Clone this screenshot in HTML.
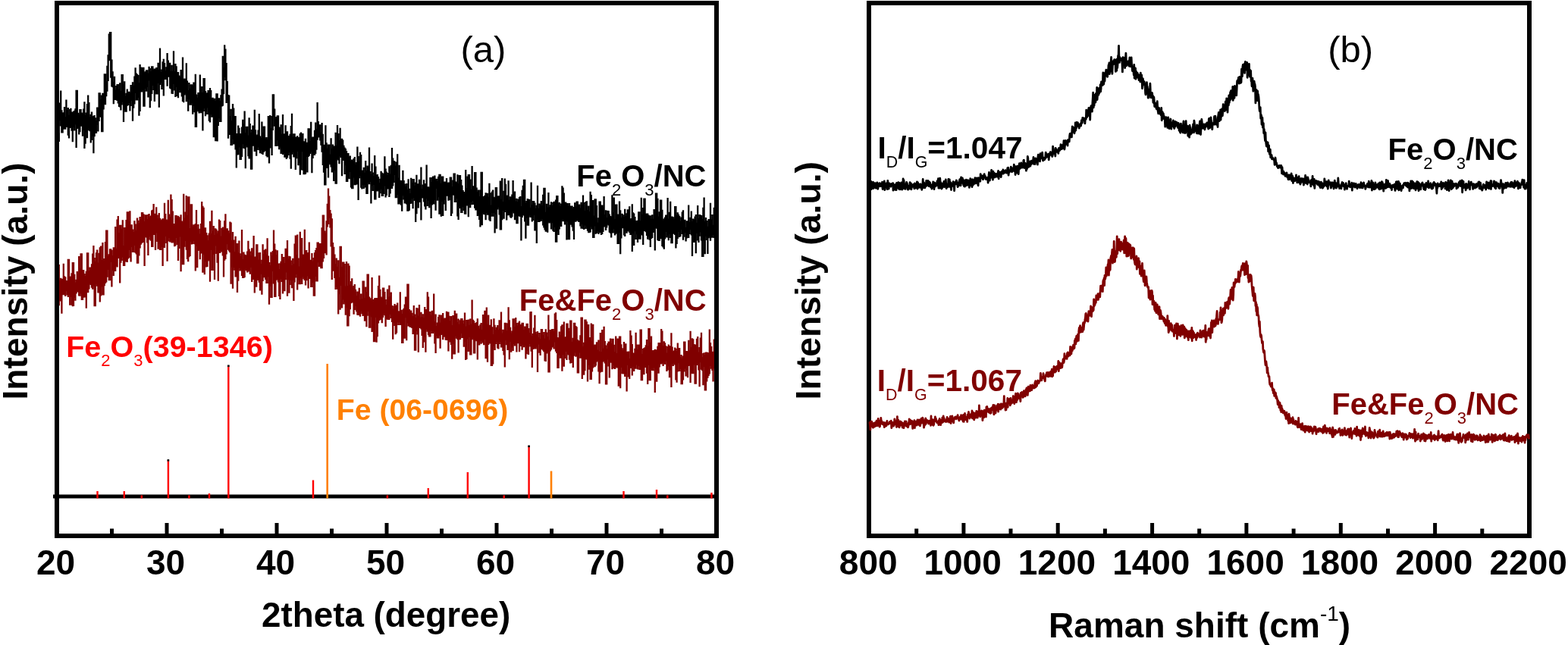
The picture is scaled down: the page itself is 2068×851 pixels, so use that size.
<!DOCTYPE html>
<html><head><meta charset="utf-8"><title>XRD and Raman</title>
<style>html,body{margin:0;padding:0;background:#fff;overflow:hidden;width:2068px;height:851px;}svg{display:block;}</style>
</head><body>
<svg width="2068" height="851" viewBox="0 0 2068 851"><rect width="100%" height="100%" fill="#fff"/><path d="M76.6 145.2V168.1M77.8 141.1V187.1M79.0 135.6V159.2M80.2 119.5V166.6M81.4 145.3V175.6M82.6 148.5V175.6M83.8 148.2V170.8M85.0 141.0V168.5M86.2 154.1V170.7M87.4 131.4V168.1M88.6 144.9V167.6M89.8 142.1V178.8M91.0 151.7V182.5M92.2 144.0V169.1M93.4 142.8V168.1M94.6 147.6V172.8M95.8 148.6V187.3M97.0 146.7V167.4M98.2 145.8V172.4M99.4 143.3V164.5M100.6 118.8V194.9M101.8 118.8V170.1M103.0 148.8V169.0M104.2 150.7V177.5M105.4 144.0V174.2M106.6 144.0V166.7M107.8 148.4V166.7M109.0 150.2V179.8M110.2 143.4V172.0M111.4 134.2V196.1M112.6 151.7V189.7M113.8 148.6V174.4M115.0 137.1V182.3M116.2 125.5V171.9M117.4 134.9V172.2M118.6 154.2V173.3M119.8 150.7V188.6M121.0 147.6V185.0M122.2 154.1V179.9M123.4 152.7V202.2M124.6 152.1V180.2M125.8 155.2V176.0M127.0 159.2V176.0M128.2 141.4V164.7M129.4 141.4V173.4M130.6 122.2V160.1M131.8 122.2V154.0M133.0 131.1V154.7M134.2 125.6V174.2M135.4 122.8V174.2M136.6 122.8V144.6M137.8 97.3V137.5M139.0 97.3V138.3M140.2 107.5V127.2M141.4 86.7V120.7M142.6 72.2V107.1M143.8 44.5V80.2M145.0 41.9V79.2M146.2 41.9V102.7M147.4 78.4V114.6M148.6 94.2V115.3M149.8 107.7V137.3M151.0 100.7V132.0M152.2 118.5V131.7M153.4 113.1V132.2M154.6 111.0V133.1M155.8 111.0V136.5M157.0 117.7V140.9M158.2 109.3V141.5M159.4 119.7V145.4M160.6 98.0V138.6M161.8 98.0V135.0M163.0 111.1V161.1M164.2 107.2V145.3M165.4 126.5V147.8M166.6 122.8V147.8M167.8 117.4V139.7M169.0 121.6V139.0M170.2 120.7V135.9M171.4 122.6V146.6M172.6 112.0V140.0M173.8 114.9V133.0M175.0 108.3V159.7M176.2 112.8V142.7M177.4 100.6V137.5M178.6 89.2V123.1M179.8 96.5V132.5M181.0 97.8V132.5M182.2 99.1V128.7M183.4 109.0V152.7M184.6 84.9V147.0M185.8 88.5V121.6M187.0 91.0V121.6M188.2 88.8V118.8M189.4 88.8V140.7M190.6 95.8V140.7M191.8 94.3V117.1M193.0 92.3V120.7M194.2 92.3V115.0M195.4 96.4V128.4M196.6 87.7V106.5M197.8 89.9V142.2M199.0 93.9V133.3M200.2 87.3V124.0M201.4 87.3V112.9M202.6 92.1V119.0M203.8 90.4V133.9M205.0 90.8V119.5M206.2 88.9V124.6M207.4 88.9V124.6M208.6 82.8V110.0M209.8 91.9V141.7M211.0 63.6V111.9M212.2 94.8V108.8M213.4 91.5V118.0M214.6 81.3V113.9M215.8 77.7V126.6M217.0 82.9V104.8M218.2 93.0V104.9M219.4 88.3V104.7M220.6 70.0V113.7M221.8 79.5V101.7M223.0 82.8V101.7M224.2 82.8V116.7M225.4 93.8V117.4M226.6 85.8V123.7M227.8 93.8V123.9M229.0 67.3V111.0M230.2 94.1V119.6M231.4 84.0V128.0M232.6 87.2V114.9M233.8 95.1V127.0M235.0 95.1V129.3M236.2 99.4V118.9M237.4 101.5V122.2M238.6 92.1V122.2M239.8 92.1V127.5M241.0 75.4V133.9M242.2 105.2V135.2M243.4 103.5V125.5M244.6 104.5V123.5M245.8 83.3V134.2M247.0 106.4V130.8M248.2 119.1V146.8M249.4 109.1V131.4M250.6 116.8V138.8M251.8 111.2V138.8M253.0 111.3V135.7M254.2 113.2V150.7M255.4 108.4V140.0M256.6 108.4V148.3M257.8 97.7V167.9M259.0 124.6V167.9M260.2 128.7V145.1M261.4 121.9V147.2M262.6 121.9V149.6M263.8 98.5V149.2M265.0 122.4V145.4M266.2 114.0V149.2M267.4 122.1V172.6M268.6 103.1V147.0M269.8 103.1V143.1M271.0 120.1V153.2M272.2 123.5V151.1M273.4 122.3V142.6M274.6 119.0V151.0M275.8 119.0V159.8M277.0 116.1V161.6M278.2 119.1V151.2M279.4 129.7V154.8M280.6 128.7V154.2M281.8 130.9V181.2M283.0 129.8V181.2M284.2 132.8V186.3M285.4 123.3V186.3M286.6 123.3V186.5M287.8 129.2V166.1M289.0 129.2V156.3M290.2 133.0V160.9M291.4 125.3V160.9M292.6 117.4V140.6M293.8 73.8V139.8M295.0 89.4V124.3M296.2 59.2V101.8M297.4 64.6V106.2M298.6 82.9V136.0M299.8 107.1V132.5M301.0 124.9V182.8M302.2 125.4V177.9M303.4 153.2V177.9M304.6 143.7V192.1M305.8 159.0V192.1M307.0 137.0V183.9M308.2 142.6V190.4M309.4 153.0V189.6M310.6 153.0V197.5M311.8 176.1V221.5M313.0 176.6V204.4M314.2 165.6V204.2M315.4 168.8V194.6M316.6 176.1V211.1M317.8 177.4V211.1M319.0 167.4V207.0M320.2 157.7V190.2M321.4 163.3V195.7M322.6 146.5V196.2M323.8 175.1V222.2M325.0 166.7V192.2M326.2 166.7V194.4M327.4 178.5V206.2M328.6 155.3V209.5M329.8 163.0V209.5M331.0 175.2V223.7M332.2 171.0V223.7M333.4 165.4V192.7M334.6 165.4V192.5M335.8 144.7V200.0M337.0 171.2V200.0M338.2 179.2V205.7M339.4 177.4V198.1M340.6 171.6V194.4M341.8 150.1V198.2M343.0 179.5V202.2M344.2 182.3V198.1M345.4 160.5V203.1M346.6 174.8V203.9M347.8 166.4V200.9M349.0 166.4V199.4M350.2 183.0V199.3M351.4 181.1V205.9M352.6 183.7V207.4M353.8 153.1V206.0M355.0 153.1V215.6M356.2 152.0V195.4M357.4 168.9V184.3M358.6 153.0V205.1M359.8 124.2V171.9M361.0 124.2V153.8M362.2 143.4V166.7M363.4 155.7V192.9M364.6 154.0V192.9M365.8 152.3V185.3M367.0 152.3V192.8M368.2 167.4V197.3M369.4 170.6V195.0M370.6 164.3V202.9M371.8 176.8V200.8M373.0 150.9V204.0M374.2 177.2V201.9M375.4 176.2V207.7M376.6 165.2V207.7M377.8 173.3V210.0M379.0 173.3V208.2M380.2 179.1V205.1M381.4 179.1V201.3M382.6 176.8V209.7M383.8 166.1V222.8M385.0 149.7V203.8M386.2 180.4V201.0M387.4 176.2V207.5M388.6 176.2V207.5M389.8 180.5V224.0M391.0 181.4V209.3M392.2 179.2V199.7M393.4 181.0V218.2M394.6 181.0V214.7M395.8 176.0V230.7M397.0 174.5V224.4M398.2 175.9V200.3M399.4 175.9V224.8M400.6 186.2V230.2M401.8 186.4V230.2M403.0 182.7V229.7M404.2 187.7V206.8M405.4 187.9V227.6M406.6 169.3V206.9M407.8 169.3V205.7M409.0 186.2V203.1M410.2 160.7V200.6M411.4 181.8V228.3M412.6 180.6V209.1M413.8 180.6V205.0M415.0 171.7V205.0M416.2 161.6V203.1M417.4 170.1V197.8M418.6 134.9V184.7M419.8 160.0V181.6M421.0 164.2V180.7M422.2 164.2V185.4M423.4 174.6V191.8M424.6 162.1V200.8M425.8 176.8V217.9M427.0 190.7V227.7M428.2 190.7V244.6M429.4 165.2V244.6M430.6 188.3V221.9M431.8 195.7V221.9M433.0 190.5V234.5M434.2 190.5V214.9M435.4 203.5V217.2M436.6 182.2V220.6M437.8 196.3V227.5M439.0 190.6V226.0M440.2 193.0V239.1M441.4 192.4V224.7M442.6 174.8V242.7M443.8 192.1V242.7M445.0 164.9V209.7M446.2 175.9V211.5M447.4 185.0V216.3M448.6 168.8V206.0M449.8 182.9V208.0M451.0 182.7V232.3M452.2 184.4V211.9M453.4 191.7V211.9M454.6 194.5V230.0M455.8 195.9V218.3M457.0 199.0V240.1M458.2 201.9V240.1M459.4 201.9V235.1M460.6 207.3V236.3M461.8 205.4V226.8M463.0 212.5V247.4M464.2 210.6V249.3M465.4 211.7V249.3M466.6 209.0V234.4M467.8 206.9V244.3M469.0 216.7V244.3M470.2 214.0V243.2M471.4 193.4V243.5M472.6 206.0V264.0M473.8 212.5V235.3M475.0 200.7V232.3M476.2 204.0V247.8M477.4 225.3V249.5M478.6 224.5V244.1M479.8 220.8V249.1M481.0 227.8V244.0M482.2 212.1V247.6M483.4 225.3V255.9M484.6 218.5V255.9M485.8 220.5V241.2M487.0 194.6V243.3M488.2 226.1V240.1M489.4 229.4V268.5M490.6 215.4V245.2M491.8 227.5V252.0M493.0 232.6V244.0M494.2 205.1V263.5M495.4 219.5V263.5M496.6 231.3V252.6M497.8 229.9V252.6M499.0 233.1V251.3M500.2 241.1V260.9M501.4 235.7V255.2M502.6 225.8V249.8M503.8 227.7V258.9M505.0 230.0V258.9M506.2 228.5V256.1M507.4 206.2V245.5M508.6 222.6V260.6M509.8 226.5V257.9M511.0 231.6V249.6M512.2 227.9V249.3M513.4 219.2V260.0M514.6 229.6V255.4M515.8 217.7V249.1M517.0 195.0V249.1M518.2 208.4V245.6M519.4 211.9V241.0M520.6 212.7V231.1M521.8 218.5V261.3M523.0 213.5V261.3M524.2 203.3V256.9M525.4 234.5V269.6M526.6 217.7V269.6M527.8 237.7V266.8M529.0 240.1V270.7M530.2 238.0V278.7M531.4 224.8V258.3M532.6 237.9V263.5M533.8 242.5V268.4M535.0 246.4V268.4M536.2 242.1V269.4M537.4 250.3V278.7M538.6 236.2V278.7M539.8 248.7V277.7M541.0 255.3V268.9M542.2 234.8V268.8M543.4 240.9V262.3M544.6 235.9V275.3M545.8 235.9V261.4M547.0 244.7V264.9M548.2 240.5V292.9M549.4 230.7V282.3M550.6 242.2V267.3M551.8 242.2V274.5M553.0 236.8V266.4M554.2 244.3V266.9M555.4 220.5V290.6M556.6 249.1V261.6M557.8 243.4V261.3M559.0 237.3V266.6M560.2 243.0V272.6M561.4 242.1V276.5M562.6 217.6V262.2M563.8 246.4V272.0M565.0 246.2V264.9M566.2 247.5V274.3M567.4 234.1V269.4M568.6 240.0V288.0M569.8 233.9V270.6M571.0 232.6V269.5M572.2 232.6V269.5M573.4 231.5V263.7M574.6 235.8V277.7M575.8 235.8V248.8M577.0 238.9V264.8M578.2 232.7V260.2M579.4 229.8V282.7M580.6 229.7V282.6M581.8 241.7V285.8M583.0 232.5V265.6M584.2 232.5V285.1M585.4 239.8V269.4M586.6 239.4V263.7M587.8 239.4V277.9M589.0 234.9V258.4M590.2 241.7V258.7M591.4 240.4V264.7M592.6 240.4V264.3M593.8 233.5V260.0M595.0 233.5V285.0M596.2 245.9V281.7M597.4 237.4V256.8M598.6 228.6V257.7M599.8 228.6V267.1M601.0 239.6V267.1M602.2 240.9V262.3M603.4 230.2V285.6M604.6 242.1V290.1M605.8 231.1V272.8M607.0 231.1V275.1M608.2 237.1V281.1M609.4 244.5V281.1M610.6 251.0V272.8M611.8 253.0V277.9M613.0 255.3V282.8M614.2 224.1V282.8M615.4 248.3V271.6M616.6 232.4V271.6M617.8 229.9V286.2M619.0 229.9V269.6M620.2 236.6V274.3M621.4 249.4V266.8M622.6 219.1V270.3M623.8 245.3V265.0M625.0 245.3V270.1M626.2 227.1V274.8M627.4 227.1V277.5M628.6 247.5V277.5M629.8 253.3V285.1M631.0 250.5V282.8M632.2 258.9V290.1M633.4 250.6V299.4M634.6 226.7V297.2M635.8 226.7V297.2M637.0 259.0V281.2M638.2 259.0V282.9M639.4 257.8V283.2M640.6 254.2V290.3M641.8 254.7V280.7M643.0 254.7V283.8M644.2 259.8V283.8M645.4 241.7V290.6M646.6 254.3V292.0M647.8 270.5V285.7M649.0 252.4V280.6M650.2 250.4V285.8M651.4 259.8V280.9M652.6 260.7V307.5M653.8 247.1V282.9M655.0 247.1V301.8M656.2 259.3V276.5M657.4 258.3V273.9M658.6 258.3V283.4M659.8 238.4V303.6M661.0 262.7V303.6M662.2 235.1V290.3M663.4 265.9V278.1M664.6 251.8V288.7M665.8 235.5V279.9M667.0 242.8V277.2M668.2 258.4V290.5M669.4 257.5V284.2M670.6 238.2V284.2M671.8 263.8V283.9M673.0 259.3V286.8M674.2 259.6V287.7M675.4 256.5V286.3M676.6 237.9V279.2M677.8 254.3V281.4M679.0 252.4V290.3M680.2 265.6V285.0M681.4 261.8V295.2M682.6 266.1V295.2M683.8 262.4V285.4M685.0 260.0V285.4M686.2 259.0V286.1M687.4 272.2V317.4M688.6 250.8V286.9M689.8 244.8V284.5M691.0 236.8V284.6M692.2 236.8V292.4M693.4 267.6V314.8M694.6 265.0V287.7M695.8 261.9V297.8M697.0 262.8V297.8M698.2 262.8V284.4M699.4 273.8V286.8M700.6 240.5V287.0M701.8 270.0V292.5M703.0 264.9V290.9M704.2 264.9V283.9M705.4 267.5V304.4M706.6 274.8V304.4M707.8 270.7V320.9M709.0 244.8V289.4M710.2 274.8V293.0M711.4 268.6V293.0M712.6 270.6V292.0M713.8 264.9V291.7M715.0 271.4V288.6M716.2 256.8V297.6M717.4 247.7V300.6M718.6 247.7V303.5M719.8 279.8V305.8M721.0 268.8V305.8M722.2 273.6V306.8M723.4 254.1V292.8M724.6 273.2V294.6M725.8 270.3V293.3M727.0 266.2V302.6M728.2 271.3V294.2M729.4 267.1V304.7M730.6 265.7V306.0M731.8 265.7V299.9M733.0 263.4V319.7M734.2 258.0V319.7M735.4 258.0V305.2M736.6 268.8V310.1M737.8 266.9V302.5M739.0 272.1V297.5M740.2 268.5V299.0M741.4 245.3V290.0M742.6 247.4V292.3M743.8 254.4V292.3M745.0 266.4V296.6M746.2 266.4V291.8M747.4 267.9V316.6M748.6 268.1V292.5M749.8 271.6V316.2M751.0 268.0V316.2M752.2 271.5V295.9M753.4 271.5V296.7M754.6 271.6V299.6M755.8 275.3V304.8M757.0 273.1V316.0M758.2 267.2V292.8M759.4 272.4V292.8M760.6 265.6V291.4M761.8 265.6V291.4M763.0 271.5V292.8M764.2 269.4V293.0M765.4 274.5V298.5M766.6 266.7V301.8M767.8 269.7V295.7M769.0 257.6V301.9M770.2 267.1V303.0M771.4 277.7V297.5M772.6 266.0V302.1M773.8 265.3V299.4M775.0 277.1V304.8M776.2 271.6V307.3M777.4 278.9V307.3M778.6 252.8V306.6M779.8 256.9V299.5M781.0 264.0V302.4M782.2 264.0V313.9M783.4 284.4V313.9M784.6 262.2V298.4M785.8 262.2V308.7M787.0 271.0V307.8M788.2 293.6V304.8M789.4 287.3V309.1M790.6 265.6V307.2M791.8 265.6V306.6M793.0 270.5V310.0M794.2 270.5V309.0M795.4 273.4V305.9M796.6 259.1V299.6M797.8 282.9V298.7M799.0 277.3V303.9M800.2 286.9V300.5M801.4 277.7V295.8M802.6 278.1V297.6M803.8 282.6V306.8M805.0 285.0V307.7M806.2 286.3V313.5M807.4 257.2V307.5M808.6 280.0V307.5M809.8 260.5V302.2M811.0 289.2V310.6M812.2 269.4V308.7M813.4 269.4V307.1M814.6 282.6V322.0M815.8 282.8V322.0M817.0 265.5V307.3M818.2 277.2V335.3M819.4 287.0V314.5M820.6 281.8V301.2M821.8 283.3V301.0M823.0 286.3V310.4M824.2 275.7V311.9M825.4 284.8V305.3M826.6 281.2V307.7M827.8 276.2V305.5M829.0 276.2V303.8M830.2 272.3V307.1M831.4 288.9V309.9M832.6 288.0V310.0M833.8 269.3V331.9M835.0 280.2V307.7M836.2 281.5V324.0M837.4 286.1V305.2M838.6 290.9V315.9M839.8 290.9V309.3M841.0 290.7V320.0M842.2 279.3V315.0M843.4 279.3V315.8M844.6 290.9V315.8M845.8 260.8V309.4M847.0 282.8V310.4M848.2 274.1V322.9M849.4 261.4V305.1M850.6 261.4V305.1M851.8 281.9V306.2M853.0 281.6V310.9M854.2 281.6V315.7M855.4 283.6V312.4M856.6 285.3V316.8M857.8 284.3V326.0M859.0 288.7V315.1M860.2 283.2V314.1M861.4 288.7V307.0M862.6 276.0V303.8M863.8 278.5V330.4M865.0 254.4V301.1M866.2 254.4V301.8M867.4 261.8V316.9M868.6 285.6V318.1M869.8 279.3V318.1M871.0 263.4V315.1M872.2 263.4V315.2M873.4 276.7V324.9M874.6 290.4V326.4M875.8 288.4V328.7M877.0 286.5V315.6M878.2 283.6V305.8M879.4 283.6V313.5M880.6 260.9V310.9M881.8 288.5V317.3M883.0 279.7V308.9M884.2 265.8V314.0M885.4 285.4V321.2M886.6 285.4V321.2M887.8 286.2V308.7M889.0 289.0V308.6M890.2 272.1V309.9M891.4 272.1V327.6M892.6 284.3V322.1M893.8 280.2V314.9M895.0 282.8V305.7M896.2 284.9V313.1M897.4 291.4V311.9M898.6 286.4V303.2M899.8 279.5V309.0M901.0 277.3V316.8M902.2 289.7V312.8M903.4 289.7V306.7M904.6 299.7V318.5M905.8 291.2V314.4M907.0 291.2V310.1M908.2 270.6V314.0M909.4 293.0V309.0M910.6 286.7V303.3M911.8 278.5V310.5M913.0 292.6V338.1M914.2 288.4V319.5M915.4 289.7V320.1M916.6 285.4V318.3M917.8 283.0V334.3M919.0 293.7V307.4M920.2 271.0V317.5M921.4 287.9V320.1M922.6 283.1V311.8M923.8 283.5V306.4M925.0 284.0V317.6M926.2 289.0V339.0M927.4 273.7V339.0M928.6 260.5V317.4M929.8 292.2V335.3M931.0 287.1V311.7M932.2 291.0V316.9M933.4 298.7V334.9M934.6 288.9V314.2M935.8 289.5V312.3M937.0 267.7V317.8M938.2 289.4V313.8M939.4 282.9V313.8M940.6 296.7V309.9M941.8 273.8V314.0M943.0 290.2V330.0" fill="none" stroke="#000" stroke-width="2.3"/><path d="M76.6 369.1V403.3M77.8 348.9V403.3M79.0 369.7V395.8M80.2 366.8V397.6M81.4 367.8V413.7M82.6 367.8V389.3M83.8 347.7V389.3M85.0 364.3V388.9M86.2 365.2V391.1M87.4 370.0V384.3M88.6 370.8V389.6M89.8 341.8V392.1M91.0 341.8V389.1M92.2 364.7V402.8M93.4 364.6V392.0M94.6 360.3V402.8M95.8 345.9V404.3M97.0 345.9V404.1M98.2 361.7V392.7M99.4 372.6V396.7M100.6 368.7V387.4M101.8 358.0V384.7M103.0 360.3V385.5M104.2 338.1V390.5M105.4 353.7V390.7M106.6 334.2V387.5M107.8 334.2V396.1M109.0 356.1V396.1M110.2 356.1V392.8M111.4 361.1V392.5M112.6 363.9V392.6M113.8 357.7V406.8M115.0 333.3V386.3M116.2 333.3V386.3M117.4 357.0V381.6M118.6 352.5V374.5M119.8 352.5V375.9M121.0 348.3V379.7M122.2 334.5V381.8M123.4 324.0V377.4M124.6 340.0V404.2M125.8 344.7V404.2M127.0 333.2V375.3M128.2 329.6V377.8M129.4 346.5V386.4M130.6 333.8V386.4M131.8 326.3V398.6M133.0 324.6V390.4M134.2 343.1V378.6M135.4 320.0V389.5M136.6 341.1V389.5M137.8 341.1V377.2M139.0 319.0V374.0M140.2 303.5V372.5M141.4 303.5V365.8M142.6 337.8V355.9M143.8 335.2V370.2M145.0 328.3V370.2M146.2 328.3V346.0M147.4 329.8V378.6M148.6 336.9V357.1M149.8 326.2V364.1M151.0 326.2V358.1M152.2 299.1V358.1M153.4 327.8V350.9M154.6 289.4V352.6M155.8 285.1V340.9M157.0 307.6V340.7M158.2 296.7V373.4M159.4 296.7V346.8M160.6 301.7V344.1M161.8 290.2V339.5M163.0 324.5V351.0M164.2 300.1V351.0M165.4 300.1V345.5M166.6 290.1V345.5M167.8 279.2V346.1M169.0 279.2V341.6M170.2 292.2V329.7M171.4 278.2V340.3M172.6 296.3V345.4M173.8 296.3V325.7M175.0 302.6V333.1M176.2 305.7V333.1M177.4 291.3V324.1M178.6 295.4V333.8M179.8 303.8V335.4M181.0 287.6V347.7M182.2 290.7V347.7M183.4 294.1V337.6M184.6 285.9V327.4M185.8 289.0V322.8M187.0 280.0V321.0M188.2 280.0V319.2M189.4 282.3V320.0M190.6 292.1V351.1M191.8 283.3V312.4M193.0 283.3V313.5M194.2 289.0V320.5M195.4 283.1V337.1M196.6 282.1V316.6M197.8 286.4V312.4M199.0 284.5V317.8M200.2 277.5V326.0M201.4 276.8V326.0M202.6 269.1V309.7M203.8 281.7V310.0M205.0 281.7V329.9M206.2 273.3V307.5M207.4 283.6V318.9M208.6 288.1V328.7M209.8 280.9V322.0M211.0 287.8V329.9M212.2 291.3V329.9M213.4 289.4V325.8M214.6 288.2V351.1M215.8 288.2V327.0M217.0 267.8V327.0M218.2 281.9V311.7M219.4 289.4V321.1M220.6 290.7V344.7M221.8 263.7V318.4M223.0 282.6V314.0M224.2 286.1V319.5M225.4 256.6V317.4M226.6 263.1V320.4M227.8 278.6V320.4M229.0 295.0V318.9M230.2 295.0V325.3M231.4 284.1V324.4M232.6 284.1V313.7M233.8 287.3V322.9M235.0 284.7V343.9M236.2 286.3V327.9M237.4 289.4V312.4M238.6 283.3V358.3M239.8 291.6V340.9M241.0 293.2V349.3M242.2 255.8V349.3M243.4 287.4V325.7M244.6 279.6V318.0M245.8 257.9V329.8M247.0 284.0V341.9M248.2 259.3V345.3M249.4 259.3V339.3M250.6 300.9V338.0M251.8 269.3V318.9M253.0 269.3V322.4M254.2 298.6V322.1M255.4 296.2V317.8M256.6 296.2V322.3M257.8 295.0V357.5M259.0 277.1V325.0M260.2 301.7V353.2M261.4 296.1V331.1M262.6 301.7V329.4M263.8 308.6V342.3M265.0 295.0V334.6M266.2 266.1V334.6M267.4 271.8V359.7M268.6 273.7V336.0M269.8 300.2V362.2M271.0 300.2V345.2M272.2 307.1V352.5M273.4 310.2V352.0M274.6 317.2V344.4M275.8 307.4V342.8M277.0 291.8V371.8M278.2 308.2V329.7M279.4 277.8V357.0M280.6 304.5V357.0M281.8 297.9V335.8M283.0 310.3V369.1M284.2 301.3V324.4M285.4 302.4V334.9M286.6 307.8V346.7M287.8 304.6V370.8M289.0 289.4V333.4M290.2 290.9V333.9M291.4 311.5V332.4M292.6 301.1V332.2M293.8 299.6V337.6M295.0 302.8V365.4M296.2 291.3V343.8M297.4 282.3V341.9M298.6 301.3V335.5M299.8 301.3V322.3M301.0 304.3V329.7M302.2 307.5V331.4M303.4 292.5V333.3M304.6 293.6V374.7M305.8 317.0V352.4M307.0 306.0V380.8M308.2 316.6V353.3M309.4 332.1V356.8M310.6 311.8V365.4M311.8 320.9V365.4M313.0 320.9V385.9M314.2 333.3V370.7M315.4 317.6V354.0M316.6 334.3V357.5M317.8 337.7V355.4M319.0 303.0V364.1M320.2 342.1V366.9M321.4 332.5V366.9M322.6 335.4V366.1M323.8 336.2V355.5M325.0 337.2V357.2M326.2 331.6V359.6M327.4 317.7V358.6M328.6 328.6V357.7M329.8 331.6V361.8M331.0 337.0V352.5M332.2 327.3V372.1M333.4 333.5V368.9M334.6 311.1V368.9M335.8 338.7V386.5M337.0 338.6V370.7M338.2 322.3V378.7M339.4 322.3V368.2M340.6 333.3V369.9M341.8 342.5V372.8M343.0 332.9V383.6M344.2 348.3V361.9M345.4 342.8V388.7M346.6 322.2V371.0M347.8 335.1V366.3M349.0 329.7V366.3M350.2 328.5V368.9M351.4 335.6V374.0M352.6 314.3V374.0M353.8 337.4V365.4M355.0 346.0V401.7M356.2 349.9V377.9M357.4 332.4V392.9M358.6 337.1V392.9M359.8 331.0V357.9M361.0 303.6V374.6M362.2 321.6V391.9M363.4 329.3V391.9M364.6 336.0V369.7M365.8 330.2V368.1M367.0 347.4V372.4M368.2 355.3V390.9M369.4 347.2V395.0M370.6 344.7V368.2M371.8 335.1V372.1M373.0 342.7V387.5M374.2 339.1V372.3M375.4 346.9V384.2M376.6 327.8V369.3M377.8 327.8V359.4M379.0 317.0V390.8M380.2 341.1V369.5M381.4 337.7V386.7M382.6 338.2V375.9M383.8 343.6V370.0M385.0 350.5V380.3M386.2 340.8V369.8M387.4 347.9V397.0M388.6 321.5V372.6M389.8 310.4V366.5M391.0 335.9V362.0M392.2 309.4V382.6M393.4 340.6V369.9M394.6 351.4V375.3M395.8 305.8V375.3M397.0 320.9V367.2M398.2 314.1V374.9M399.4 335.6V365.4M400.6 336.0V368.3M401.8 302.8V370.0M403.0 331.0V376.6M404.2 329.9V370.2M405.4 334.5V364.5M406.6 332.9V380.6M407.8 319.4V367.9M409.0 342.7V367.9M410.2 343.1V379.1M411.4 333.9V379.1M412.6 344.6V373.2M413.8 340.0V390.8M415.0 333.2V390.8M416.2 330.1V365.0M417.4 326.9V371.4M418.6 319.6V371.4M419.8 319.6V346.3M421.0 321.9V351.9M422.2 321.0V351.9M423.4 321.0V354.2M424.6 300.2V354.2M425.8 283.5V345.4M427.0 283.5V341.1M428.2 304.4V334.3M429.4 307.5V334.3M430.6 291.3V336.4M431.8 268.8V299.5M433.0 248.4V296.1M434.2 258.5V288.1M435.4 277.0V300.5M436.6 281.4V325.5M437.8 288.3V368.9M439.0 319.9V357.7M440.2 325.8V357.8M441.4 335.4V366.9M442.6 348.0V382.0M443.8 340.6V379.1M445.0 351.8V381.8M446.2 343.2V414.6M447.4 365.8V388.3M448.6 324.7V408.8M449.8 324.7V377.0M451.0 352.0V406.6M452.2 345.6V395.6M453.4 345.6V401.4M454.6 347.9V398.7M455.8 377.6V415.7M457.0 345.0V405.5M458.2 376.9V430.4M459.4 347.5V430.4M460.6 350.6V417.3M461.8 375.4V408.2M463.0 371.0V400.3M464.2 367.2V399.1M465.4 379.2V399.5M466.6 376.9V414.7M467.8 375.1V409.1M469.0 381.7V403.5M470.2 390.0V411.2M471.4 384.5V415.7M472.6 384.5V416.0M473.8 379.7V416.0M475.0 395.3V417.7M476.2 387.6V411.1M477.4 394.1V414.2M478.6 370.6V417.0M479.8 370.6V415.7M481.0 392.9V423.8M482.2 378.5V423.8M483.4 385.0V431.3M484.6 361.5V416.7M485.8 361.5V411.1M487.0 391.6V432.8M488.2 393.2V432.8M489.4 395.7V418.5M490.6 366.1V438.0M491.8 395.1V436.8M493.0 395.1V451.3M494.2 393.3V451.3M495.4 392.9V418.8M496.6 392.9V451.7M497.8 393.4V444.3M499.0 377.1V426.4M500.2 363.6V423.0M501.4 381.8V421.9M502.6 391.6V419.9M503.8 393.0V426.2M505.0 379.4V419.0M506.2 379.4V413.7M507.4 385.1V416.2M508.6 394.9V430.9M509.8 402.3V421.2M511.0 381.5V421.7M512.2 391.6V422.1M513.4 376.6V422.1M514.6 391.0V415.0M515.8 385.5V420.1M517.0 403.1V425.0M518.2 407.6V447.7M519.4 403.6V426.3M520.6 401.0V429.9M521.8 404.2V441.3M523.0 402.5V439.4M524.2 399.4V425.2M525.4 410.3V429.0M526.6 410.7V425.3M527.8 385.3V429.0M529.0 408.7V429.0M530.2 414.2V452.9M531.4 408.6V452.9M532.6 406.8V446.8M533.8 401.6V446.8M535.0 391.6V419.2M536.2 391.6V449.2M537.4 374.6V426.5M538.6 374.6V430.5M539.8 407.9V430.7M541.0 409.5V432.1M542.2 409.5V432.1M543.4 412.8V432.9M544.6 417.2V441.0M545.8 403.0V441.0M547.0 414.5V462.7M548.2 419.2V462.7M549.4 406.1V436.7M550.6 406.6V441.5M551.8 416.5V464.7M553.0 402.1V432.0M554.2 418.4V433.1M555.4 411.7V434.4M556.6 418.1V443.1M557.8 414.2V458.9M559.0 419.1V451.6M560.2 404.9V444.9M561.4 408.0V464.7M562.6 408.0V434.7M563.8 385.3V437.7M565.0 391.5V442.2M566.2 411.1V444.5M567.4 411.1V444.5M568.6 415.8V436.5M569.8 409.8V440.0M571.0 409.8V440.0M572.2 387.6V437.8M573.4 423.8V453.6M574.6 414.6V465.9M575.8 429.9V443.2M577.0 425.4V446.6M578.2 418.1V446.6M579.4 415.3V442.8M580.6 425.6V459.7M581.8 415.6V442.0M583.0 419.0V440.4M584.2 413.0V448.3M585.4 420.7V444.8M586.6 419.4V443.9M587.8 419.4V448.8M589.0 410.7V449.0M590.2 411.4V449.0M591.4 411.4V463.4M592.6 416.8V449.0M593.8 423.3V451.6M595.0 417.0V454.9M596.2 429.3V473.7M597.4 415.9V453.8M598.6 415.9V467.5M599.8 409.8V467.5M601.0 413.6V443.9M602.2 413.6V446.8M603.4 425.3V448.2M604.6 420.5V465.4M605.8 427.8V448.2M607.0 422.3V448.0M608.2 420.1V440.1M609.4 420.1V445.9M610.6 422.5V445.9M611.8 427.1V457.7M613.0 412.4V451.0M614.2 430.5V475.1M615.4 422.1V474.1M616.6 422.1V447.5M617.8 421.5V464.0M619.0 428.7V444.7M620.2 420.5V468.4M621.4 427.5V468.4M622.6 395.4V448.3M623.8 421.7V446.3M625.0 423.3V466.6M626.2 427.5V466.6M627.4 426.1V449.1M628.6 425.1V450.3M629.8 420.2V474.6M631.0 429.8V452.1M632.2 433.4V455.6M633.4 428.1V450.2M634.6 426.1V453.7M635.8 434.7V449.9M637.0 415.0V452.5M638.2 415.0V455.2M639.4 409.7V447.9M640.6 409.7V473.3M641.8 405.4V473.3M643.0 427.8V477.7M644.2 415.5V455.1M645.4 429.3V453.3M646.6 428.8V453.6M647.8 421.2V483.1M649.0 431.3V483.1M650.2 441.0V480.6M651.4 420.2V456.7M652.6 428.8V462.0M653.8 435.0V454.0M655.0 431.8V450.5M656.2 428.9V459.5M657.4 435.3V460.6M658.6 422.3V454.0M659.8 433.4V450.7M661.0 411.4V458.4M662.2 439.4V458.4M663.4 434.8V462.9M664.6 435.4V468.5M665.8 425.8V484.5M667.0 425.8V449.2M668.2 436.3V455.3M669.4 426.3V462.0M670.6 405.2V462.0M671.8 422.3V474.3M673.0 431.7V450.6M674.2 439.5V464.7M675.4 436.4V458.6M676.6 420.3V463.0M677.8 420.3V453.8M679.0 431.3V456.5M680.2 419.1V453.3M681.4 426.1V464.6M682.6 429.4V453.3M683.8 425.5V453.3M685.0 423.6V464.3M686.2 429.2V456.6M687.4 427.7V457.0M688.6 425.8V461.7M689.8 425.8V455.2M691.0 434.9V458.3M692.2 430.6V456.2M693.4 430.9V473.6M694.6 426.7V467.2M695.8 426.7V462.7M697.0 433.0V468.0M698.2 439.1V454.0M699.4 411.3V457.5M700.6 411.1V463.8M701.8 442.8V484.9M703.0 439.9V460.9M704.2 432.5V460.6M705.4 415.7V460.6M706.6 437.7V460.4M707.8 441.1V457.8M709.0 437.0V491.0M710.2 445.0V454.6M711.4 439.0V465.7M712.6 447.0V468.9M713.8 434.0V461.3M715.0 434.0V460.1M716.2 442.3V462.4M717.4 437.9V464.3M718.6 446.5V476.6M719.8 434.2V476.9M721.0 438.6V466.5M722.2 444.2V464.6M723.4 415.5V491.5M724.6 448.5V491.5M725.8 435.1V463.5M727.0 435.1V461.5M728.2 433.9V458.5M729.4 433.9V457.1M730.6 437.2V460.5M731.8 413.5V451.4M733.0 412.2V463.8M734.2 422.0V466.0M735.4 445.0V486.1M736.6 446.2V486.1M737.8 437.5V468.6M739.0 442.6V472.7M740.2 430.3V472.7M741.4 428.2V489.7M742.6 435.2V468.2M743.8 424.5V483.8M745.0 445.4V473.0M746.2 444.3V464.1M747.4 426.4V474.9M748.6 426.4V467.3M749.8 432.8V468.4M751.0 436.8V474.7M752.2 422.5V479.5M753.4 422.5V479.0M754.6 450.7V474.4M755.8 445.8V485.0M757.0 425.7V469.8M758.2 425.7V465.4M759.4 430.0V470.8M760.6 431.3V469.4M761.8 448.0V492.6M763.0 449.2V492.6M764.2 449.3V465.4M765.4 442.3V472.7M766.6 418.6V472.7M767.8 418.6V499.9M769.0 457.1V494.8M770.2 451.7V494.8M771.4 421.5V489.3M772.6 421.5V473.7M773.8 424.3V474.5M775.0 428.1V503.4M776.2 428.1V481.7M777.4 444.9V487.7M778.6 444.9V501.1M779.8 426.6V501.1M781.0 450.6V490.5M782.2 427.8V485.6M783.4 455.6V479.8M784.6 454.6V484.2M785.8 454.6V482.4M787.0 451.3V477.5M788.2 461.6V475.7M789.4 448.5V490.6M790.6 463.4V506.2M791.8 438.9V491.4M793.0 464.0V490.7M794.2 435.0V490.7M795.4 459.6V477.6M796.6 430.8V476.2M797.8 450.1V479.5M799.0 455.5V507.4M800.2 460.0V507.4M801.4 453.0V474.5M802.6 450.6V483.5M803.8 450.6V498.6M805.0 446.6V478.0M806.2 453.1V478.8M807.4 446.7V487.3M808.6 446.7V482.0M809.8 454.8V486.3M811.0 464.2V486.9M812.2 443.4V484.2M813.4 466.1V485.6M814.6 446.4V485.6M815.8 446.4V509.7M817.0 443.6V487.7M818.2 443.6V512.2M819.4 454.3V484.7M820.6 459.3V493.2M821.8 462.3V493.6M823.0 450.9V493.6M824.2 453.2V496.9M825.4 453.2V494.1M826.6 463.7V516.6M827.8 463.7V481.7M829.0 463.6V497.6M830.2 473.1V500.0M831.4 435.9V485.9M832.6 442.4V485.8M833.8 454.0V495.4M835.0 465.5V483.7M836.2 465.8V489.9M837.4 459.7V486.6M838.6 438.7V486.7M839.8 454.5V481.4M841.0 461.3V487.6M842.2 454.4V482.8M843.4 454.4V488.1M844.6 434.4V488.1M845.8 434.4V502.3M847.0 467.1V502.3M848.2 460.1V494.2M849.4 459.0V494.2M850.6 458.3V484.9M851.8 455.3V484.8M853.0 448.0V492.7M854.2 456.4V507.0M855.4 433.0V481.7M856.6 433.0V502.3M857.8 451.7V502.3M859.0 443.4V487.0M860.2 462.4V489.1M861.4 462.0V489.3M862.6 462.0V485.4M863.8 460.7V518.0M865.0 461.2V487.6M866.2 461.2V503.8M867.4 456.7V488.7M868.6 452.0V492.7M869.8 452.0V484.4M871.0 452.5V480.1M872.2 433.9V480.5M873.4 436.5V479.0M874.6 456.3V483.1M875.8 450.2V478.4M877.0 452.2V480.7M878.2 456.2V476.4M879.4 465.6V489.9M880.6 457.1V488.4M881.8 454.6V483.6M883.0 456.2V498.3M884.2 456.2V488.5M885.4 439.3V511.0M886.6 457.5V480.6M887.8 463.6V483.0M889.0 462.4V478.4M890.2 458.5V481.4M891.4 459.7V501.4M892.6 463.3V504.7M893.8 452.5V490.6M895.0 459.0V479.2M896.2 459.0V490.0M897.4 471.1V487.0M898.6 468.0V507.3M899.8 472.8V507.3M901.0 469.5V501.4M902.2 450.6V490.6M903.4 450.6V486.5M904.6 463.1V496.6M905.8 463.1V488.7M907.0 464.3V498.2M908.2 448.8V482.9M909.4 461.8V482.0M910.6 436.7V504.9M911.8 458.0V492.3M913.0 446.2V493.3M914.2 447.3V493.3M915.4 454.1V481.4M916.6 454.5V506.7M917.8 454.5V506.7M919.0 446.7V482.0M920.2 443.9V480.5M921.4 464.4V488.6M922.6 458.1V510.2M923.8 445.4V478.2M925.0 438.7V487.8M926.2 471.1V489.3M927.4 466.1V508.2M928.6 465.2V484.2M929.8 468.2V515.5M931.0 464.5V515.5M932.2 464.5V503.4M933.4 464.9V498.7M934.6 465.9V495.9M935.8 434.6V493.4M937.0 452.1V482.9M938.2 456.9V486.8M939.4 463.9V489.0M940.6 463.7V503.6M941.8 447.6V486.3M943.0 463.6V488.4" fill="none" stroke="#800000" stroke-width="2.3"/><rect x="70" y="652.5" width="873" height="5" fill="#000"/><rect x="127.3" y="648.0" width="2.4" height="9.5" fill="#ff0000"/><rect x="162.6" y="648.0" width="2.4" height="9.5" fill="#ff0000"/><rect x="185.6" y="653.5" width="2.4" height="4.0" fill="#ff0000"/><rect x="220.7" y="607.0" width="2.4" height="50.5" fill="#ff0000"/><rect x="248.2" y="653.5" width="2.4" height="4.0" fill="#ff0000"/><rect x="274.8" y="651.0" width="2.4" height="6.5" fill="#ff0000"/><rect x="300.1" y="482.0" width="2.4" height="175.5" fill="#ff0000"/><rect x="411.8" y="633.5" width="2.4" height="24.0" fill="#ff0000"/><rect x="509.7" y="653.5" width="2.4" height="4.0" fill="#ff0000"/><rect x="563.6" y="644.0" width="2.4" height="13.5" fill="#ff0000"/><rect x="615.6" y="623.0" width="2.4" height="34.5" fill="#ff0000"/><rect x="663.5" y="653.5" width="2.4" height="4.0" fill="#ff0000"/><rect x="696.4" y="588.5" width="2.4" height="69.0" fill="#ff0000"/><rect x="821.3" y="648.0" width="2.4" height="9.5" fill="#ff0000"/><rect x="864.8" y="646.0" width="2.4" height="11.5" fill="#ff0000"/><rect x="879.1" y="653.5" width="2.4" height="4.0" fill="#ff0000"/><rect x="937.2" y="650.0" width="2.4" height="7.5" fill="#ff0000"/><rect x="220.6" y="606.0" width="2.6" height="2.6" fill="#000"/><rect x="696.3" y="587.5" width="2.6" height="2.6" fill="#000"/><rect x="300.0" y="481.5" width="2.6" height="2.6" fill="#000"/><rect x="430.4" y="480.0" width="2.6" height="177.5" fill="#ff8000"/><rect x="725.7" y="621.5" width="2.6" height="36.0" fill="#ff8000"/><rect x="75" y="4" width="870" height="703" fill="none" stroke="#000" stroke-width="6"/><rect x="1146" y="4" width="871" height="703" fill="none" stroke="#000" stroke-width="6"/><rect x="145.0" y="697.5" width="5" height="7.5" fill="#000"/><rect x="217.5" y="690" width="5" height="15" fill="#000"/><rect x="290.0" y="697.5" width="5" height="7.5" fill="#000"/><rect x="362.5" y="690" width="5" height="15" fill="#000"/><rect x="435.0" y="697.5" width="5" height="7.5" fill="#000"/><rect x="507.5" y="690" width="5" height="15" fill="#000"/><rect x="580.0" y="697.5" width="5" height="7.5" fill="#000"/><rect x="652.5" y="690" width="5" height="15" fill="#000"/><rect x="725.0" y="697.5" width="5" height="7.5" fill="#000"/><rect x="797.5" y="690" width="5" height="15" fill="#000"/><rect x="870.0" y="697.5" width="5" height="7.5" fill="#000"/><rect x="1206.2" y="697.5" width="5" height="7.5" fill="#000"/><rect x="1268.4" y="690" width="5" height="15" fill="#000"/><rect x="1330.5" y="697.5" width="5" height="7.5" fill="#000"/><rect x="1392.7" y="690" width="5" height="15" fill="#000"/><rect x="1454.9" y="697.5" width="5" height="7.5" fill="#000"/><rect x="1517.1" y="690" width="5" height="15" fill="#000"/><rect x="1579.2" y="697.5" width="5" height="7.5" fill="#000"/><rect x="1641.4" y="690" width="5" height="15" fill="#000"/><rect x="1703.6" y="697.5" width="5" height="7.5" fill="#000"/><rect x="1765.8" y="690" width="5" height="15" fill="#000"/><rect x="1828.0" y="697.5" width="5" height="7.5" fill="#000"/><rect x="1890.1" y="690" width="5" height="15" fill="#000"/><rect x="1952.3" y="697.5" width="5" height="7.5" fill="#000"/><path d="M1146.5 244.6l0.5-2.1 0.4 3.5 0.5 4.3 0.4-8.5 0.5-2.4 0.4 10.3 0.5-4.7 0.4 3.4 0.5-1 0.4-6.3 0.5-0.9 0.4 8.4 0.5-5.5 0.4 2.9 0.5-4.4 0.4 5.7 0.5-4.8 0.4-0.7 0.5 6.4 0.4-1.2 0.5-2.5 0.4 3.7 0.5-7.2 0.4 7 0.5 1.3 0.4-2.4 0.5-2.8 0.4-1.9 0.5 3.1 0.4-3.7 0.5 3.9 0.4-1.5 0.5 0.4 0.4 1.3 0.5-3.7 0.4 2.9 0.5 0.3 0.4-5 0.5 9.3 0.4-5.3 0.5 0.2 0.4 3.4 0.5-0.6 0.4-8.2 0.5 11.6 0.4-0.8 0.5-6.3 0.4 3.1 0.5-0.1 0.4-4.5 0.5 3.5 0.4 0.4 0.5 3.7 0.4-11.3 0.5 5.6 0.4-2.1 0.5 7.2 0.4-7.1 0.5-0.1 0.4 0.5 0.5 3 0.4 0.4 0.5 0.4 0.4-2.3 0.5 0.8 0.4-2.2 0.5 0.3 0.4 0.2 0.5-1.3 0.4 9.5 0.5-6.2 0.4 0 0.5-1.1 0.4 0.3 0.5 5.7 0.4 0.5 0.5-6.8 0.4 1.1 0.5 6 0.4-9.1 0.5 3.6 0.4 2 0.5-4.1 0.4 4.8 0.5-7.2 0.4 6.5 0.5 2.4 0.4-8 0.5 5 0.4 3.3 0.5-6.2 0.4 1.5 0.5-0.4 0.4-3.9 0.5 4 0.4 5.3 0.5-5.5 0.4 4.4 0.5-13.1 0.4 8.5 0.5-6.7 0.4 3.7 0.5 4.3 0.4 3.5 0.5-5.6 0.4 5.8 0.5-4.7 0.4-0.5 0.5-3.8 0.4 0.8 0.5 1.5 0.4 1.8 0.5 5.7 0.4 0 0.5-2 0.4-3 0.5 1.2 0.4 2.4 0.5-8.1 0.4 3.8 0.5 2.9 0.4-5.6 0.5 8 0.4-3.4 0.5-0.4 0.4-0.3 0.5-2.1 0.4 2.7 0.5-2.6 0.4-0.4 0.5 1.3 0.4 4.3 0.5-7.1 0.4 5.4 0.5 0.8 0.4-3.6 0.5-0.8 0.4 2.9 0.5-3.6 0.4-3.1 0.5 9.4 0.4-8.6 0.5 2.3 0.4-0.4 0.5 1.7 0.4 3.2 0.5-4.1 0.4 0.4 0.5 1.9 0.4-2.8 0.5 3.4 0.4 2.2 0.5-2.3 0.4 4.2 0.5-3.7 0.4-0.1 0.5-10 0.4 6.4 0.5 4.6 0.4-6.7 0.5 3.1 0.4 3.1 0.5 0.9 0.4-2.9 0.5-0.6 0.4 1.2 0.5-7.3 0.4 6.7 0.5-3.2 0.4 1.6 0.5-3.4 0.4-1.6 0.5 5.1 0.4 2.1 0.5-0.2 0.4-5.5 0.5 1.8 0.4-0.7 0.5 4.2 0.4 1.7 0.5-1.3 0.4 0 0.5 3.4 0.4-5.3 0.5-0.1 0.4 3.3 0.5-7.1 0.4 0.5 0.5 3.8 0.4 5.5 0.5-8.5 0.4 3 0.5-2.5 0.4 4.3 0.5-0.8 0.4-1.1 0.5-2.1 0.4 0.7 0.5-4 0.4 1.8 0.5 4.8 0.4-9.5 0.5 12.4 0.4-7.5 0.5 4.3 0.4 3.3 0.5-13.1 0.4 3.9 0.5 1.8 0.4 2.6 0.5 3.3 0.4 2.4 0.5-7 0.4 5.4 0.5-4.8 0.4-0.5 0.5 4 0.4-5.6 0.5-1.4 0.4 7.5 0.5-2.7 0.4-0.8 0.5 0.7 0.4-7 0.5 7.9 0.4 3.9 0.5-5.7 0.4 1.8 0.5-1.1 0.4 3 0.5-1.8 0.4-8.6 0.5 9.1 0.4 0.5 0.5-9 0.4 5.2 0.5 3.4 0.4 1.6 0.5-6.2 0.4 9.6 0.5-6.3 0.4-1.2 0.5 1.1 0.4 0.3 0.5 0.8 0.4-5.6 0.5 4.9 0.4-0.5 0.5 7.6 0.4-7.8 0.5-1.9 0.4-1.4 0.5 2.5 0.4-1.4 0.5-3.6 0.4 0.4 0.5 3 0.4-0.4 0.5 5.7 0.4-1.8 0.5-2.7 0.4 2.8 0.5-3.9 0.4-2.5 0.5-2 0.4 5.4 0.5 1.3 0.4 1.5 0.5-11 0.4 5.1 0.5 2.6 0.4-0.7 0.5-5.8 0.4 6.1 0.5-1 0.4 4 0.5-6.3 0.4 8.1 0.5-8.1 0.4 8.4 0.5-5.3 0.4 2.8 0.5-3.7 0.4-2.8 0.5 7.5 0.4-5.2 0.5 4.4 0.4-6 0.5-0.2 0.4 2.4 0.5 4.3 0.4-5.6 0.5 8.5 0.4-6.9 0.5 4.6 0.4-9.3 0.5 3.4 0.4 3.7 0.5 0.9 0.4-4.9 0.5 7.9 0.4-10 0.5 3.8 0.4 3.6 0.5-1.7 0.4-2 0.5 2.2 0.4-5.6 0.5 4.7 0.4-7.1 0.5 1.1 0.4 6.1 0.5-0.6 0.4-3.6 0.5-2.7 0.4 2.4 0.5-1.5 0.4 6.6 0.5 2.4 0.4-10.1 0.5 3.7 0.4-0.1 0.5 0.3 0.4-0.7 0.5 1.4 0.4-9.7 0.5 5.1 0.4-0.6 0.5 0.6 0.4-2.9 0.5 2.1 0.4 0.2 0.5 2.7 0.4-0.7 0.5-4.5 0.4-0.5 0.5-1.5 0.4 3.1 0.5-0.2 0.4 0 0.5 3.9 0.4-1.9 0.5 2 0.4-1.9 0.5 0.3 0.4 1.6 0.5 0 0.4 4.6 0.5-8 0.4-1.6 0.5-4 0.4 8.5 0.5 2.1 0.4-5.3 0.5-1.3 0.4-2 0.5 2.7 0.4-7.8 0.5 10 0.4-5 0.5 3.9 0.4 3.8 0.5-10.9 0.4 4.1 0.5-2 0.4-0.2 0.5 5.9 0.4-0.2 0.5-1.1 0.4-0.4 0.5-2.9 0.4 1.9 0.5 1.7 0.4 0 0.5-3.9 0.4 2.5 0.5-3.6 0.4-2.6 0.5 10.4 0.4-6 0.5-0.3 0.4-2.3 0.5 2.5 0.4-2.1 0.5 3.8 0.4 2.2 0.5-6.4 0.4-1 0.5 2.3 0.4 0.5 0.5-1.9 0.4-3.3 0.5 5.4 0.4-0.8 0.5-0.7 0.4-1.8 0.5 1.8 0.4-0.8 0.5-2.2 0.4 2.9 0.5-1.1 0.4 1.6 0.5-2 0.4 2 0.5-6.4 0.4 4.6 0.5-5.1 0.4 10 0.5-5.4 0.4 1.6 0.5-2.6 0.4 1.5 0.5-0.2 0.4-1.8 0.5-4.1 0.4 2.1 0.5 3.4 0.4 1 0.5-3.5 0.4-1.2 0.5 1.9 0.4-1.9 0.5 3.3 0.4-8.1 0.5 2.4 0.4 6.6 0.5-2.5 0.4 6.8 0.5-10.9 0.4 7.2 0.5-3.4 0.4 4.6 0.5-0.7 0.4-8.2 0.5 0.6 0.4 0.5 0.5 9.4 0.4-6 0.5-6 0.4-2 0.5 7 0.4-0.8 0.5-2.5 0.4 2.1 0.5-6.5 0.4 5.8 0.5 0.5 0.4 0 0.5-3.7 0.4 2.6 0.5-2.1 0.4-6.4 0.5-0.4 0.4 10.3 0.5-6.4 0.4 5.6 0.5-5.3 0.4 4.3 0.5 2.7 0.4 2.8 0.5-8.5 0.4 6.2 0.5-4.4 0.4-12.2 0.5 2.2 0.4 9.9 0.5 2 0.4-5.2 0.5 0.4 0.4-2.4 0.5-0.3 0.4 6.2 0.5-4.8 0.4-1.6 0.5 3.8 0.4-4.3 0.5 3 0.4-2.7 0.5 2.4 0.4-2.2 0.5-5.2 0.4 8.9 0.5-0.8 0.4-2.7 0.5-2.1 0.4 5.7 0.5-7.6 0.4 4.1 0.5 0.4 0.4 0.1 0.5-3 0.4-0.9 0.5 7.6 0.4-9.5 0.5-3.6 0.4 0.8 0.5 5 0.4-3.1 0.5 5.2 0.4 0.9 0.5-10.2 0.4-0.1 0.5 4.9 0.4 1.4 0.5-5.2 0.4 2.4 0.5-4.9 0.4 8.4 0.5 2.4 0.4-4.2 0.5 0.4 0.4 0.6 0.5 2 0.4-0.8 0.5-1.4 0.4 0.5 0.5-7.9 0.4 6.3 0.5-4.6 0.4 4.1 0.5-1.7 0.4-0.1 0.5 1.6 0.4-1.5 0.5-2 0.4 7.5 0.5-6.4 0.4 1.1 0.5-2.9 0.4-1.3 0.5-0.9 0.4 2.8 0.5-0.5 0.4 2 0.5-3.9 0.4 5.7 0.5-1.3 0.4-12 0.5 3 0.4 3.3 0.5 1.8 0.4 1.2 0.5-0.6 0.4-2.7 0.5 6.8 0.4-10.7 0.5 2.7 0.4-1.1 0.5 2.7 0.4 0.6 0.5-1.5 0.4 1.3 0.5-1.9 0.4 4.3 0.5-6.9 0.4-0.1 0.5 3.5 0.4-1 0.5-0.1 0.4-1.9 0.5-5.3 0.4 5.5 0.5-4.2 0.4 4.8 0.5-1.8 0.4-1.5 0.5-2.4 0.4 4.6 0.5-4.2 0.4-5.7 0.5 8.4 0.4 2.9 0.5-4.1 0.4-2.8 0.5-4.8 0.4 1.2 0.5 3.5 0.4-0.1 0.5-3.4 0.4 2.9 0.5 2.7 0.4-7.5 0.5 1.8 0.4-1.1 0.5-0.2 0.4 1.9 0.5-8.1 0.4-2.5 0.5 1.8 0.4-1.2 0.5-1.1 0.4 5 0.5 0 0.4-7.9 0.5-6.1 0.4 0.4 0.5 6.9 0.4-0.8 0.5-4.8 0.4 4.3 0.5 3 0.4-4.4 0.5 1.7 0.4-11.3 0.5 9.9 0.4-5.1 0.5 2.3 0.4-7.6 0.5 2.8 0.4-1.1 0.5-1.2 0.4 4.4 0.5-2.1 0.4 0 0.5 4.9 0.4-3.4 0.5-1 0.4 0.6 0.5-2.5 0.4 3.4 0.5-3 0.4-4.5 0.5 0 0.4 3.4 0.5-6.8 0.4 2.8 0.5-0.7 0.4-1.5 0.5-0.1 0.4 2 0.5 2.1 0.4 2.9 0.5-6.7 0.4 0.6 0.5 0.5 0.4-12.1 0.5 0.9 0.4 8.7 0.5-2.3 0.4-4.8 0.5 5.1 0.4-7.3 0.5-2.9 0.4 6.4 0.5-0.6 0.4 0.7 0.5 9.2 0.4-16.3 0.5 5.5 0.4-7.8 0.5 1.3 0.4-0.5 0.5 6.8 0.4-9.8 0.5-8.4 0.4-6.9 0.5 19.8 0.4-7 0.5 4.2 0.4-8.5 0.5-5.5 0.4 0.7 0.5 9.2 0.4-11.5 0.5 6.3 0.4 2.1 0.5-16.4 0.4 16 0.5-7 0.4-1.2 0.5-2.2 0.4 4.1 0.5-8.8 0.4 6.4 0.5-5 0.4 0.7 0.5-6.8 0.4 9.2 0.5-4.4 0.4-8.7 0.5 3.1 0.4-3 0.5 3.1 0.4 1.4 0.5-16.4 0.4 12.6 0.5 2.6 0.4-4.3 0.5-4.2 0.4 4.3 0.5-11.2 0.4 1.5 0.5-1.6 0.4-3.5 0.5 8 0.4-1.1 0.5 0 0.4 2.2 0.5-8.8 0.4 2 0.5-8.5 0.4 0.5 0.5-3.5 0.4 14.7 0.5-4.7 0.4-9.5 0.5 3.3 0.4-5 0.5-6.5 0.4 19.1 0.5-4.5 0.4 7.4 0.5-11.4 0.4-0.5 0.5-3.9 0.4-1.3 0.5 1 0.4-2.5 0.5 2.5 0.4 3.6 0.5-5.8 0.4 15.4 0.5-14.7 0.4 9.6 0.5 3.9 0.4-15.3 0.5 11.6 0.4-5.2 0.5-11 0.4 4.4 0.5-17.4 0.4 14.9 0.5 7.1 0.4-6.9 0.5 4.2 0.4-1.8 0.5-0.6 0.4 1.9 0.5-1.9 0.4 0.5 0.5 6.6 0.4 10.6 0.5-19.2 0.4 4.4 0.5-2.4 0.4-1.5 0.5 6.4 0.4-1.6 0.5 8.6 0.4-1.8 0.5-11.4 0.4-6.3 0.5 12.4 0.4 4.1 0.5-1.3 0.4-3.2 0.5-0.8 0.4 0.5 0.5-0.9 0.4 3.3 0.5 2.8 0.4-5.2 0.5-5.9 0.4 11.6 0.5-6.4 0.4 6.5 0.5-3.7 0.4-8 0.5 10.3 0.4 1.6 0.5 5.9 0.4-0.7 0.5-1 0.4 0.5 0.5 6.4 0.4-13.4 0.5 17.6 0.4 0.2 0.5-8 0.4-5.5 0.5 14.5 0.4-10.2 0.5 3.8 0.4-0.7 0.5 2.4 0.4-3.5 0.5 6.2 0.4-1 0.5-2.6 0.4 7 0.5-0.8 0.4-4.8 0.5 1.3 0.4 6.5 0.5-11.8 0.4 10.8 0.5 0.1 0.4-8.1 0.5 5.8 0.4 12 0.5-3.8 0.4-8.9 0.5 4.6 0.4 0 0.5-1 0.4 0.2 0.5 4.2 0.4-1 0.5 11.9 0.4 2 0.5-8.4 0.4-1.7 0.5-6.1 0.4 4.9 0.5 0.7 0.4 5.4 0.5 9.4 0.4-11.3 0.5 11 0.4-6.1 0.5 1.4 0.4-1.3 0.5-12.6 0.4 10.2 0.5 3.6 0.4 4.9 0.5-6.7 0.4 3.6 0.5-3.1 0.4 5.4 0.5-1.7 0.4 8.9 0.5-7.6 0.4 0.3 0.5 5.3 0.4 7.2 0.5-4.8 0.4 0.4 0.5 4.4 0.4-2 0.5 4.5 0.4 0.8 0.5-2.7 0.4-7.4 0.5 10.5 0.4 2.5 0.5 3.2 0.4-7.8 0.5 0.3 0.4 6.3 0.5-0.3 0.4 1.7 0.5-2.2 0.4 3.2 0.5 0.9 0.4-9.5 0.5 16.3 0.4-6.1 0.5-5.1 0.4 1.3 0.5 7.6 0.4-6.5 0.5 6.1 0.4-2.8 0.5 3.5 0.4-0.1 0.5 10.5 0.4-5.9 0.5 4.6 0.4-11.2 0.5 4.9 0.4-3.2 0.5 7.4 0.4 4.5 0.5-5.8 0.4-7.5 0.5 6.9 0.4 5.5 0.5 2.3 0.4-7.8 0.5 1.6 0.4-4.1 0.5-2.4 0.4 5.6 0.5 7.5 0.4-8.4 0.5 5.5 0.4-0.8 0.5-2.8 0.4-0.8 0.5-3.8 0.4 5.8 0.5 3.6 0.4 1.1 0.5-2.2 0.4-0.1 0.5-6.8 0.4 1.3 0.5 2.7 0.4 1.1 0.5-4 0.4 3.4 0.5 1.6 0.4 1.9 0.5-0.4 0.4-5.5 0.5 2 0.4 7.8 0.5-7.9 0.4 5.2 0.5 5.1 0.4 0.5 0.5-12.1 0.4 5.7 0.5-1.6 0.4-1.2 0.5 6.9 0.4-2.8 0.5 4.8 0.4-10.5 0.5-4.5 0.4 9.1 0.5 0.8 0.4 5.5 0.5-6.8 0.4 3.7 0.5 3.1 0.4-15.7 0.5 10.1 0.4-1.6 0.5-2.3 0.4 2.3 0.5 1.5 0.4 9.7 0.5-12.7 0.4 2.4 0.5 6 0.4 6.1 0.5-15.9 0.4 8 0.5-5.3 0.4 9.3 0.5-3.3 0.4-1.7 0.5 3.3 0.4-4 0.5-1 0.4 2 0.5-8.5 0.4 6.4 0.5 4.5 0.4-15.8 0.5 3.8 0.4 9.9 0.5-0.2 0.4-2.4 0.5 2.3 0.4-3.5 0.5 6.3 0.4-10.3 0.5 11 0.4-7.2 0.5-2.9 0.4 6.1 0.5-4.8 0.4 9.1 0.5-9.5 0.4-3.6 0.5-3.4 0.4 9.3 0.5 8.4 0.4-6.3 0.5-3.6 0.4-10.1 0.5 4.1 0.4 7.6 0.5-4.3 0.4 2 0.5-0.2 0.4 2.5 0.5-5.4 0.4 5.3 0.5 1.9 0.4-5.5 0.5 2.9 0.4-3.4 0.5-1.7 0.4 3.1 0.5-2.3 0.4-2.2 0.5 2.4 0.4-0.5 0.5 4.9 0.4 1.3 0.5-12.9 0.4-0.9 0.5 4.6 0.4 8 0.5-10.4 0.4 0.1 0.5-3.7 0.4 4.7 0.5 2.2 0.4 5.4 0.5 3.6 0.4-8.1 0.5 1.5 0.4 0.4 0.5-2.2 0.4 1.1 0.5-9.7 0.4 9.8 0.5 0.7 0.4-11 0.5 2.3 0.4 5.1 0.5 0.2 0.4 0.3 0.5 3.7 0.4-4.1 0.5 6.8 0.4-13 0.5-3.3 0.4-2.8 0.5 9.4 0.4 1.9 0.5-10.6 0.4 2.9 0.5-7 0.4 13.1 0.5-7.3 0.4 2.8 0.5-9.6 0.4 4.8 0.5 3.9 0.4-5.4 0.5-9.7 0.4 3 0.5 1.6 0.4 3.7 0.5-1.8 0.4 2.4 0.5-6 0.4-6.6 0.5 10.9 0.4-3.9 0.5-11 0.4 6.8 0.5-6.4 0.4 17.8 0.5-14.3 0.4 0.6 0.5 4.2 0.4-12.7 0.5 9.5 0.4-5.1 0.5 2.2 0.4-10.8 0.5 9.5 0.4-11.6 0.5 7.7 0.4 0.9 0.5 0.1 0.4 1 0.5-15 0.4 18.1 0.5-11.6 0.4 0.7 0.5 4.1 0.4 3.7 0.5-15.9 0.4 3.7 0.5 0 0.4 5.8 0.5-6.8 0.4 9.8 0.5-9.6 0.4-9.1 0.5-1.3 0.4 1.7 0.5-0.3 0.4-4.9 0.5 4.5 0.4 3.3 0.5-8.8 0.4 7.5 0.5-2.9 0.4-2.7 0.5 6 0.4-0.9 0.5-17.3 0.4 8.3 0.5 1.2 0.4-11.6 0.5-3.6 0.4 8.4 0.5-6.2 0.4 4.2 0.5-7.5 0.4 12.1 0.5-12.6 0.4-2.3 0.5 7 0.4 2.2 0.5-7.7 0.4 9.5 0.5-10 0.4 19.8 0.5-8.4 0.4 1.1 0.5-1.7 0.4 0.9 0.5-9.8 0.4 13.3 0.5 3.4 0.4-8.7 0.5 8 0.4-7 0.5 13.8 0.4-4 0.5 10.6 0.4-3.3 0.5-7.3 0.4 5.8 0.5 11.3 0.4-2 0.5-9.5 0.4-1.6 0.5 3.8 0.4 0 0.5 3.7 0.4 21.2 0.5-12.5 0.4 7.5 0.5-12.2 0.4 9.8 0.5 4.1 0.4-12.5 0.5 7.4 0.4-2.8 0.5 3.2 0.4 5.1 0.5 10.3 0.4 3.4 0.5-5 0.4-0.1 0.5 14.6 0.4-5 0.5 1.3 0.4 11.8 0.5-6.9 0.4-2.2 0.5 13 0.4-4.2 0.5-1.5 0.4 13.2 0.5-5.3 0.4 3.7 0.5 7.3 0.4 4.3 0.5-10.9 0.4 11.2 0.5 3.9 0.4 3 0.5-3.9 0.4-1.4 0.5 6.2 0.4-6 0.5 12 0.4-5.6 0.5-2.3 0.4 7.5 0.5 4 0.4-0.9 0.5-5.4 0.4 10.6 0.5-2.8 0.4-0.6 0.5 0.4 0.4 5.1 0.5-1.2 0.4-0.7 0.5 1.4 0.4 0.9 0.5 0.3 0.4 0.4 0.5 1.5 0.4 4.9 0.5-7.6 0.4-1.7 0.5 3.9 0.4 4.7 0.5-2.1 0.4 2.1 0.5 2.9 0.4-0.5 0.5 1 0.4 1.6 0.5-0.3 0.4-2.6 0.5 0.7 0.4 1.5 0.5-2.5 0.4 2.6 0.5-1.5 0.4 1.7 0.5-2.9 0.4 1.6 0.5 9 0.4-8.2 0.5 6.4 0.4 1 0.5 1.9 0.4-3.9 0.5 2.6 0.4-0.9 0.5 1.7 0.4 0.8 0.5 2.1 0.4-2.4 0.5-1.2 0.4-0.2 0.5-0.7 0.4 3.8 0.5 2.2 0.4-2.7 0.5 3 0.4 2.5 0.5-5.7 0.4 5.9 0.5-2.5 0.4-3.4 0.5 0.5 0.4 3.6 0.5-1 0.4 2.5 0.5-7.6 0.4 9.4 0.5 0.2 0.4-6.8 0.5 1.6 0.4 8.1 0.5-3.3 0.4-2.8 0.5-0.3 0.4 1.2 0.5 2.4 0.4-3.1 0.5 2.5 0.4-3.1 0.5-4.2 0.4 6.6 0.5-1.9 0.4 5.4 0.5-2.6 0.4 1.3 0.5-5.8 0.4 6.4 0.5-7.6 0.4 8.3 0.5-2.1 0.4 2.3 0.5 2 0.4-1.1 0.5-6.3 0.4-0.3 0.5 4.2 0.4 0 0.5 0.4 0.4-3.9 0.5-0.4 0.4 3.7 0.5 4.6 0.4-7.6 0.5 4.2 0.4 0.3 0.5-2.2 0.4-7.3 0.5 10.1 0.4-7.8 0.5 5.8 0.4-4.1 0.5 2.3 0.4 5.3 0.5-9.1 0.4 2.3 0.5 1.9 0.4-0.5 0.5 2.9 0.4-0.5 0.5 1 0.4-0.3 0.5 0.1 0.4 5 0.5-8.1 0.4 3.9 0.5-1.1 0.4 2.7 0.5-10.8 0.4 6.1 0.5 3.8 0.4-1.4 0.5 4.1 0.4-8.7 0.5 12.1 0.4-5.6 0.5-2.4 0.4-1.3 0.5-0.5 0.4 1 0.5 2.2 0.4-2.8 0.5 4 0.4-2.6 0.5 3.3 0.4-4.3 0.5 3 0.4-2.8 0.5 5.9 0.4-3.5 0.5 1.1 0.4 4.4 0.5-4.5 0.4-2.8 0.5 1.7 0.4-0.8 0.5 3.5 0.4 3.6 0.5-0.2 0.4-5.6 0.5 0.5 0.4 3.3 0.5-1.1 0.4-9.2 0.5 4.5 0.4 1.2 0.5-0.6 0.4 2.3 0.5 1.4 0.4-5.1 0.5 6.3 0.4-2.6 0.5 2.2 0.4 3.5 0.5-7 0.4-4.2 0.5 4.3 0.4 1.3 0.5-1.2 0.4 0.8 0.5-2.4 0.4 4.7 0.5 2.8 0.4-2 0.5-5.1 0.4 3.1 0.5 1.2 0.4-4.3 0.5 2.8 0.4-2.2 0.5 7.4 0.4-2.2 0.5-2 0.4-6.6 0.5 8.1 0.4-5.5 0.5 6.3 0.4 1 0.5-0.1 0.4-3.5 0.5-2.8 0.4 3.7 0.5 0.2 0.4-10.6 0.5 7.4 0.4 4.2 0.5-3.1 0.4 5.1 0.5-3.7 0.4 1.3 0.5 0 0.4 0 0.5 2.6 0.4-4.9 0.5-2.1 0.4-1.3 0.5 4.7 0.4-4.1 0.5 0.5 0.4 4 0.5-1.8 0.4 0.5 0.5 5.9 0.4-4.2 0.5-2.7 0.4 1.6 0.5-3.2 0.4 3.7 0.5 1.2 0.4 2.7 0.5-3 0.4-0.9 0.5 0.6 0.4-0.3 0.5-1.9 0.4-4.6 0.5 4.3 0.4 2.8 0.5 0.5 0.4-1.3 0.5-1.1 0.4-1.1 0.5 0.7 0.4-2.9 0.5 10 0.4-7.1 0.5 1.4 0.4 0.9 0.5-4.1 0.4-0.4 0.5 1.1 0.4 2.1 0.5 2.2 0.4-4.2 0.5 0.3 0.4-0.9 0.5 3.2 0.4-0.1 0.5 1.9 0.4 1.3 0.5-2.3 0.4-2.1 0.5-0.9 0.4 2.4 0.5-1.4 0.4 1.7 0.5 1.4 0.4-4.4 0.5 3.7 0.4-1.5 0.5-4.7 0.4 7 0.5-2.8 0.4-1.8 0.5 3.9 0.4 1 0.5-5.9 0.4 2.4 0.5-3.4 0.4 3.1 0.5 1.5 0.4-0.1 0.5-0.6 0.4 4.5 0.5-2 0.4-1.5 0.5-0.1 0.4-0.8 0.5-1.7 0.4-0.9 0.5 2.1 0.4 2.3 0.5-3.6 0.4-4.1 0.5 7.8 0.4-2.7 0.5 3 0.4-1.5 0.5-4 0.4 0.2 0.5 1.6 0.4-5.1 0.5 12.6 0.4-7.6 0.5 0.4 0.4-2.8 0.5 4.3 0.4 2 0.5 2.4 0.4-6.1 0.5 6 0.4-3.5 0.5-5.3 0.4 7.8 0.5-5.2 0.4 3.4 0.5-0.4 0.4-2.1 0.5-0.4 0.4 3.3 0.5-4.2 0.4-0.7 0.5 6.4 0.4-4.1 0.5 5.2 0.4-9 0.5 4.1 0.4 0.3 0.5-2.9 0.4 6.9 0.5-4.3 0.4-5.3 0.5 7.1 0.4-6 0.5 4.7 0.4 1 0.5 5.7 0.4-8.5 0.5 1.7 0.4-1.9 0.5-0.2 0.4 3.9 0.5 1.3 0.4-0.9 0.5-10.1 0.4 10.1 0.5-2.9 0.4-3.1 0.5 1 0.4-4 0.5 8.1 0.4-2 0.5 0.9 0.4-2.8 0.5-0.5 0.4 4.6 0.5 0.6 0.4-2.6 0.5-0.2 0.4 2.4 0.5 3.6 0.4-4.6 0.5-1.1 0.4-0.7 0.5 2.4 0.4-2.2 0.5 1.4 0.4 1 0.5-3.6 0.4 5.5 0.5 2.7 0.4-8.4 0.5 4.7 0.4-7.7 0.5 7.5 0.4-7.8 0.5 9.5 0.4-1.2 0.5-8 0.4 3.4 0.5-4.1 0.4 11.6 0.5-1.1 0.4-4 0.5-4 0.4 3.9 0.5 0 0.4 2.9 0.5 2.9 0.4-3.1 0.5 0 0.4-3.2 0.5-0.6 0.4 3.4 0.5-2.8 0.4-1.3 0.5-2.1 0.4-0.2 0.5 1.5 0.4-1.4 0.5-0.4 0.4 3.2 0.5-2.8 0.4 3.7 0.5-0.1 0.4 0.5 0.5-4.7 0.4 5.9 0.5-5.5 0.4 1.9 0.5 2.6 0.4-3.5 0.5 9.4 0.4-5.8 0.5-0.5 0.4 3.2 0.5-9.8 0.4 9.5 0.5-6.4 0.4 0.4 0.5-3.7 0.4 9.2 0.5-3.2 0.4-4.5 0.5 4.3 0.4 4 0.5-6.2 0.4 3.3 0.5-3.8 0.4 2.4 0.5 6.5 0.4-5.8 0.5-2 0.4 5.6 0.5-9 0.4 5.5 0.5 2.3 0.4-7.3 0.5 6.7 0.4 4.9 0.5-2 0.4-7.7 0.5 4.7 0.4-3.4 0.5 0.2 0.4 6.4 0.5-4.4 0.4-0.6 0.5 0.1 0.4-3.4 0.5-0.7 0.4 3.1 0.5 1.6 0.4-0.9 0.5 4.9 0.4-2.6 0.5-3.5 0.4 0.8 0.5 6.4 0.4-0.8 0.5-2.8 0.4-5.7 0.5 1.1 0.4 1.2 0.5 2.4 0.4-0.3 0.5 0.9 0.4-7.8 0.5 6.3 0.4 2.7 0.5-1.5 0.4-1.6 0.5-1.1 0.4 0.1 0.5-2.2 0.4 2.9 0.5 3.9 0.4-3.7 0.5 4.5 0.4-5.5 0.5-0.5 0.4 5 0.5-6.9 0.4 2.1 0.5-2.9 0.4 4.1 0.5-2.8 0.4 0.5 0.5 0.1 0.4 0.4 0.5 4 0.4 1.5 0.5 6.8 0.4-9.5 0.5 2.5 0.4-6.2 0.5 3.4 0.4-1.4 0.5 1.2 0.4 0.5 0.5-2 0.4-0.4 0.5-0.8 0.4 0.7 0.5 2.8 0.4-6 0.5 9.7 0.4-2 0.5-5.6 0.4 5.7 0.5-1.6 0.4-4.6 0.5 0.5 0.4 3.6 0.5-3.4 0.4 2.8 0.5-1.8 0.4 5.7 0.5-8.4 0.4 8.3 0.5-6.3 0.4 2.6 0.5 5.4 0.4-9.3 0.5-0.5 0.4 0.3 0.5-3.2 0.4 4.6 0.5 9.3 0.4-9.4 0.5 1.1 0.4 3.4 0.5-0.7 0.4-8.1 0.5 7.8 0.4 3.7 0.5-0.5 0.4-9.8 0.5 6 0.4 2.8 0.5-1.1 0.4-4.5 0.5 2.9 0.4 0.2 0.5-2.6 0.4 1.9 0.5-0.1 0.4-2.4 0.5 1 0.4-1 0.5 6.6 0.4-3.8 0.5 2.1 0.4-1.8 0.5 1.9 0.4-4.5 0.5 2.2 0.4-4.3 0.5 4.5 0.4-0.2 0.5-6 0.4-0.3 0.5 2.2 0.4 4.8 0.5-3.9 0.4 1 0.5-4.9 0.4 15.9 0.5-10.6 0.4-3.1 0.5-0.7 0.4 8.1 0.5-3.8 0.4 1.1 0.5 0.2 0.4-1.4 0.5 2.3 0.4 5 0.5-8.4 0.4 1.7 0.5 1.9 0.4-0.8 0.5 2.9 0.4-3.1 0.5-2.2 0.4 3.6 0.5-7 0.4 4.8 0.5 0.8 0.4 4.7 0.5-7.7 0.4 1.4 0.5 0.5 0.4-3.9 0.5 3.4 0.4-0.5 0.5-0.3 0.4 2 0.5 4.7 0.4-6.7 0.5 3.5 0.4-1.5 0.5-1.7 0.4 3.1 0.5 2 0.4-1.8 0.5-1.4 0.4 0.8 0.5-3 0.4 4.3 0.5-2 0.4-1.5 0.5-1 0.4 2.5 0.5-4.7 0.4 2.3 0.5-2.8 0.4 8.7 0.5 0.3 0.4-3.5 0.5-4.2 0.4 2.6 0.5 5.6 0.4-3 0.5 1.3 0.4 3.6 0.5-1.2 0.4-2.6 0.5-2.1 0.4-2.1 0.5 1.1 0.4 2.2 0.5 1.1 0.4-2.3 0.5-0.9 0.4 1.7 0.5 3.9 0.4-4 0.5-6.2 0.4 4.6 0.5 0.7 0.4 2.5 0.5-6.3 0.4 1.2 0.5-1.5 0.4 7.8 0.5-3.9 0.4 1.7 0.5 0.3 0.4-3.1 0.5-5.1 0.4 10.8 0.5-10.7 0.4 6.1 0.5 0.8 0.4-2.2 0.5 1.7 0.4-0.5 0.5 0.3 0.4 0.5 0.5-6.6 0.4 0.4 0.5 8.2 0.4-7 0.5 4.4 0.4 3.9 0.5-3.7 0.4-4.5 0.5 3.8 0.4-0.4 0.5-0.2 0.4 1.9 0.5-3.5 0.4 3 0.5 2.8 0.4-4.9 0.5 2.6 0.4 2.8 0.5-2.7 0.4-3 0.5-5.2 0.4 2.5 0.5 5.3 0.4-1.8 0.5 0.7 0.4 10.1 0.5-8.3 0.4-3.4 0.5 6.1 0.4-0.1 0.5-4.2 0.4 1.3 0.5-0.6 0.4-1.4 0.5-2.4 0.4 6.5 0.5-0.7 0.4-5.4 0.5 3.5 0.4-3.1 0.5-1.2 0.4 4.9 0.5-1.8 0.4 0 0.5 0.8 0.4 1 0.5 0.2 0.4-4.2 0.5 2.6 0.4 1.8 0.5-5.9 0.4 4.5 0.5-4.4 0.4 3.6 0.5 2.3 0.4-1.4 0.5-0.8 0.4 0.2 0.5-3.1 0.4 6.3 0.5-6.7 0.4-2.3 0.5 4.3 0.4-1.3 0.5 3.9 0.4-2.4 0.5-2.2 0.4-0.1 0.5-0.2 0.4-1.3 0.5 4.5 0.4 5.1 0.5-7.6 0.4 0 0.5 1.9 0.4 0.1 0.5 0.4 0.4 4.2 0.5-4.3 0.4 0.3 0.5 0 0.4-3.3 0.5 0.3 0.4-3.7 0.5 4.7 0.4-0.3 0.5 2.1 0.4 3.3 0.5-9.4 0.4 8.6 0.5 2.9 0.4-5.3 0.5 0.4 0.4 4.8 0.5-2.9 0.4-0.8 0.5-3.8 0.4 0.8 0.5 4 0.4 0.7 0.5-2.6 0.4 3.7 0.5 0.7 0.4-10.3" fill="none" stroke="#000" stroke-width="2.8" stroke-linejoin="round"/><path d="M1146.5 558.2l0.5-0.6 0.4 2.6 0.5 6.7 0.4-10.4 0.5 0.3 0.4 4.6 0.5-5.2 0.4 1.8 0.5 4.5 0.4 1 0.5 0.7 0.4-1.6 0.5-4.3 0.4 0.7 0.5 4 0.4-5.2 0.5 3.6 0.4-4 0.5 4.8 0.4-0.8 0.5-6.2 0.4 2.6 0.5-0.1 0.4 4 0.5-3.5 0.4-5.7 0.5 6.4 0.4 0.9 0.5-4.5 0.4 7.8 0.5-0.4 0.4-7.9 0.5 4.5 0.4-7.8 0.5 4.8 0.4-1.2 0.5 3.4 0.4 1.1 0.5 0.1 0.4-2.3 0.5 0 0.4 3.1 0.5-3.1 0.4 6.2 0.5-4.9 0.4-0.1 0.5 2.4 0.4-3 0.5 4.2 0.4-0.5 0.5-1.7 0.4-4.5 0.5 3.2 0.4-0.4 0.5 1.6 0.4-0.1 0.5-1.4 0.4 0.4 0.5-0.1 0.4-2.2 0.5 1.8 0.4-1.3 0.5 2 0.4-3.9 0.5 9.6 0.4-2.3 0.5-2.3 0.4-2.6 0.5 3.1 0.4-2.6 0.5 4.2 0.4-2.8 0.5-0.5 0.4-6.1 0.5 3.8 0.4 3.2 0.5-4.4 0.4 3 0.5 3.3 0.4 1.8 0.5-6.1 0.4-7.8 0.5 9.5 0.4 1.7 0.5-6.6 0.4 8.7 0.5-4.2 0.4 5.2 0.5-5.1 0.4 0.7 0.5-3.7 0.4 5.4 0.5-1.3 0.4-3 0.5 4 0.4-3.3 0.5 6.4 0.4-3.3 0.5-1.7 0.4-0.5 0.5 6.1 0.4-5.3 0.5 1.2 0.4-4.6 0.5 5.5 0.4-2 0.5-2.7 0.4-0.7 0.5 6.3 0.4-3.2 0.5 1.9 0.4 0.3 0.5 2.5 0.4-0.6 0.5-5.5 0.4 0.6 0.5-5.5 0.4 6.3 0.5 0.8 0.4-5.8 0.5 4.9 0.4 0.1 0.5-0.4 0.4 0.7 0.5-4 0.4 3.6 0.5 6.4 0.4-6.8 0.5-1.3 0.4 0.7 0.5 5.4 0.4-8.8 0.5 10 0.4-7.5 0.5 3.3 0.4 0.7 0.5-5 0.4 1.6 0.5 3.4 0.4-2.8 0.5-4.5 0.4 6.2 0.5-5 0.4 5.1 0.5-1.7 0.4-4.6 0.5 7.3 0.4-2.2 0.5 3 0.4-3.2 0.5-2.5 0.4-3.9 0.5 5.7 0.4-3.4 0.5 1.9 0.4-5.3 0.5 1 0.4 5.9 0.5 0.7 0.4 5.4 0.5-2.4 0.4-7.3 0.5 6 0.4-3.5 0.5-5 0.4 7.3 0.5-4.2 0.4-1 0.5 0.2 0.4 2.9 0.5-1 0.4-0.1 0.5 1.1 0.4 1.9 0.5-4 0.4 0.3 0.5 2 0.4 0.6 0.5 0.9 0.4 2.4 0.5-12.3 0.4 11.2 0.5-2.4 0.4 2.2 0.5-6.3 0.4 3.4 0.5 3.9 0.4 0.2 0.5-1 0.4-3 0.5-3.7 0.4 2.4 0.5-6 0.4 5 0.5-2.9 0.4 3 0.5-0.1 0.4 2.5 0.5 0.4 0.4-0.8 0.5 0 0.4-0.5 0.5 4.1 0.4-5.7 0.5-1 0.4-1.5 0.5 3.2 0.4 2.1 0.5 3 0.4-6.4 0.5 3.4 0.4-3.4 0.5 3.3 0.4-6.4 0.5 5 0.4 0.6 0.5-7.8 0.4 5 0.5-2.5 0.4 3.4 0.5 0.8 0.4-1 0.5 1.7 0.4-1.2 0.5 1 0.4-2.7 0.5 2.8 0.4-6 0.5 5.9 0.4-4.2 0.5 1.1 0.4 1.4 0.5 0.2 0.4 2.3 0.5-4.7 0.4 2.3 0.5-4.5 0.4-0.9 0.5 9.3 0.4-5.6 0.5 2.7 0.4-2.1 0.5-4.5 0.4 6.9 0.5-0.3 0.4 0.2 0.5 2.1 0.4-5.6 0.5 0.9 0.4-2.5 0.5 0.8 0.4-1.2 0.5-0.3 0.4 0.8 0.5 2 0.4-2.9 0.5 0.5 0.4-0.6 0.5-2.1 0.4 1.9 0.5 1.8 0.4 1.7 0.5 1.9 0.4-0.7 0.5-3.1 0.4-0.9 0.5 0.4 0.4 0.5 0.5-3.5 0.4 5.4 0.5-1.8 0.4-0.8 0.5-2.3 0.4 6.8 0.5 1 0.4-8.5 0.5 8.8 0.4-6.5 0.5 3.2 0.4-7.7 0.5 5.5 0.4 2.8 0.5-3.4 0.4 3.4 0.5-2.7 0.4 2.6 0.5 2.9 0.4-9.3 0.5 3.2 0.4-3.5 0.5-3.3 0.4 2.9 0.5 4.4 0.4 1.3 0.5-0.8 0.4-1.3 0.5-1.4 0.4-2.1 0.5 2.4 0.4-1 0.5-6.1 0.4 10.1 0.5-4.9 0.4-3.1 0.5 6.2 0.4-0.7 0.5 4.5 0.4-7.6 0.5-1.2 0.4 6.1 0.5-4.7 0.4 4.7 0.5-2.1 0.4-6.8 0.5 1.3 0.4-0.4 0.5 8 0.4-1.9 0.5-0.6 0.4-6.1 0.5 5 0.4-12.6 0.5 11.6 0.4-0.6 0.5 3.7 0.4-2.1 0.5-5 0.4 2.9 0.5-3.7 0.4 2.4 0.5-1 0.4 11.4 0.5-11.9 0.4 0.5 0.5 1.8 0.4 5.8 0.5-9.7 0.4 7.3 0.5-1.2 0.4-6 0.5 1.4 0.4 7.4 0.5-13 0.4 1.7 0.5-2.4 0.4 3.8 0.5 2.8 0.4-3.8 0.5 4.6 0.4-0.6 0.5 1.2 0.4-2.9 0.5-0.1 0.4-1.8 0.5 5.8 0.4-3.5 0.5 2.9 0.4-6.5 0.5 2.9 0.4-0.7 0.5-3.5 0.4 1.7 0.5-4.2 0.4 2.5 0.5 9.9 0.4-7.1 0.5-5 0.4 6.7 0.5 1.3 0.4 2.5 0.5-4.6 0.4 0.9 0.5-2.7 0.4-3.6 0.5 3.4 0.4-1.9 0.5-3.6 0.4 10 0.5-6.9 0.4-2.6 0.5 1.7 0.4 4.4 0.5-4.2 0.4-1.9 0.5 6.6 0.4-7.3 0.5 5.1 0.4-2.7 0.5-2.3 0.4 5.3 0.5-1.3 0.4 0 0.5-2.8 0.4-0.8 0.5-10.8 0.4 9.8 0.5-0.1 0.4 3.9 0.5 4.8 0.4-8.2 0.5 8 0.4-8.9 0.5 3.9 0.4 0 0.5-10.3 0.4 11.8 0.5-10 0.4 3.1 0.5-2.8 0.4 0.5 0.5-2 0.4 2.5 0.5 6.2 0.4-9.3 0.5 7.4 0.4-2.3 0.5 0.9 0.4-1.2 0.5 1.1 0.4-0.7 0.5-6.4 0.4-1.8 0.5 8.5 0.4-2 0.5 3.6 0.4-5.7 0.5-1.1 0.4-2.8 0.5-3.8 0.4 7.6 0.5 3.9 0.4-6.1 0.5 3.1 0.4-0.2 0.5-8.7 0.4 6.4 0.5-5.2 0.4 4.3 0.5 1.1 0.4-3.3 0.5 0.5 0.4 3.8 0.5 3.1 0.4-11 0.5 1.9 0.4-1.6 0.5-1.4 0.4 5.2 0.5-4.2 0.4 5.9 0.5-0.1 0.4-4.9 0.5-3.6 0.4 3.7 0.5-0.7 0.4-2.5 0.5 6.6 0.4-5.4 0.5-3.6 0.4 5.7 0.5-7.7 0.4 8.9 0.5-5 0.4 5.6 0.5-5.1 0.4-6.1 0.5 2.8 0.4 3.1 0.5-3.3 0.4 0.8 0.5 2.3 0.4-7.5 0.5 3.2 0.4-2.5 0.5 3.7 0.4 2 0.5-3.3 0.4-3.5 0.5 1.4 0.4-0.3 0.5 2.9 0.4 0.1 0.5-1 0.4 0.9 0.5-6.3 0.4-1.1 0.5-1.8 0.4 8.1 0.5-2.7 0.4-4.6 0.5 5.7 0.4-4.5 0.5-0.8 0.4-1.9 0.5 3.7 0.4 0.2 0.5-0.9 0.4-2.1 0.5-0.2 0.4-0.1 0.5-1.3 0.4-8.9 0.5 7.6 0.4-0.4 0.5 2.3 0.4-2.9 0.5 0.2 0.4-1.1 0.5-2.1 0.4-3.3 0.5 3.5 0.4 2.3 0.5 0.1 0.4 3.1 0.5 1.1 0.4-6 0.5 0.2 0.4-2.8 0.5 1.6 0.4-4.2 0.5 1.5 0.4 1.7 0.5 1.9 0.4-5.3 0.5 0.3 0.4 5.1 0.5-4.8 0.4 1.7 0.5 2.1 0.4-3.4 0.5-2.1 0.4 6 0.5-6.5 0.4 2.3 0.5-5 0.4 9.7 0.5-8.7 0.4 7.7 0.5-7.9 0.4 0.1 0.5-4.6 0.4 0.5 0.5 4.4 0.4 2.8 0.5-6.4 0.4 2 0.5 3.3 0.4-4.1 0.5-2.5 0.4 2.6 0.5-1.4 0.4-1.3 0.5 4 0.4-10.9 0.5 13.3 0.4-5.8 0.5-5.8 0.4 5.8 0.5-1.9 0.4 3.5 0.5-1.5 0.4-4.3 0.5 2.3 0.4 3 0.5-0.5 0.4-4.5 0.5-2.2 0.4-3.8 0.5 4.1 0.4 0.4 0.5-2.5 0.4-9.4 0.5 5.8 0.4-1.4 0.5 2.1 0.4-1.8 0.5-0.2 0.4-1.2 0.5 3.4 0.4-7.4 0.5 3.7 0.4-4.8 0.5 5.3 0.4-2 0.5-1.3 0.4 2.2 0.5-1.9 0.4 1.8 0.5-11.4 0.4 5.2 0.5-3.9 0.4 8 0.5-4.4 0.4-4.1 0.5 4.3 0.4-5.2 0.5 0.4 0.4-2.7 0.5 5.1 0.4-5.4 0.5 4.5 0.4-9.9 0.5 2.9 0.4-5.4 0.5 6.9 0.4-5.4 0.5-4.9 0.4 7 0.5-0.5 0.4-5 0.5-3.9 0.4 3.4 0.5 4.9 0.4-12.4 0.5-4.5 0.4 6.5 0.5-7 0.4-2.4 0.5 7.8 0.4-0.2 0.5 0.9 0.4-3.1 0.5 0.3 0.4-3.5 0.5 5.8 0.4-9.6 0.5-2.4 0.4 9.4 0.5-4.9 0.4-4.4 0.5 0.2 0.4-4.2 0.5-2.1 0.4-5.5 0.5-0.7 0.4 9.9 0.5-5.3 0.4-2.2 0.5 0.1 0.4 4.8 0.5 3.3 0.4-8.1 0.5-5.3 0.4 1.1 0.5 0.7 0.4 3.9 0.5-3.6 0.4 2.4 0.5-11.3 0.4 7.6 0.5 6.3 0.4-7.5 0.5-4.5 0.4 2.4 0.5 2.5 0.4-4.2 0.5 2.9 0.4-14.4 0.5 8.8 0.4-1.1 0.5-0.2 0.4-3.1 0.5-1.5 0.4 1.6 0.5-9.4 0.4 2.6 0.5 0.6 0.4 2.2 0.5-3.1 0.4-4.7 0.5 7.7 0.4-4.4 0.5-2 0.4 0.8 0.5-2.7 0.4 4.8 0.5-8.8 0.4-5.9 0.5 6.7 0.4-0.5 0.5 0.6 0.4-2.5 0.5-5.1 0.4 8.3 0.5-13.5 0.4-1.6 0.5 6.6 0.4-9.2 0.5 9.7 0.4-13.3 0.5 5.1 0.4-1.3 0.5-5.1 0.4-9.1 0.5 11.1 0.4-1.3 0.5-3 0.4-4.3 0.5-6.4 0.4 2.4 0.5-8.6 0.4 20.3 0.5-14.3 0.4 8.3 0.5-10 0.4 8.9 0.5-14.7 0.4-2.2 0.5-1.9 0.4 4.4 0.5-7.7 0.4-4.6 0.5 17.9 0.4-2.1 0.5-14 0.4 9.5 0.5-22.2 0.4 16.2 0.5 11.1 0.4-0.8 0.5-8.7 0.4 1.7 0.5-6.5 0.4 7.9 0.5-13.5 0.4-14 0.5 22.8 0.4-7.1 0.5-1.2 0.4 3.6 0.5-0.2 0.4-14.1 0.5 9.6 0.4-5.9 0.5 2.5 0.4 9.5 0.5-8.4 0.4-3.7 0.5 4.8 0.4-1.7 0.5 1.5 0.4 5.4 0.5-5.6 0.4-2.8 0.5 1.6 0.4-5.5 0.5 17 0.4-5.2 0.5-16.8 0.4 12.2 0.5 9.5 0.4-19.3 0.5 8.8 0.4 15.1 0.5-9.2 0.4 2.9 0.5-11.6 0.4 17.6 0.5-6.5 0.4 5.9 0.5-15.5 0.4 3.1 0.5-2.2 0.4 9.2 0.5-8.4 0.4 7.4 0.5 10.1 0.4-4 0.5-9.2 0.4 8.2 0.5-9.2 0.4 12.4 0.5-12.4 0.4 13.2 0.5 2.4 0.4-14.4 0.5 15.6 0.4 3.3 0.5 2.1 0.4 0 0.5-4.1 0.4 0.9 0.5-7.8 0.4 17.2 0.5-10.7 0.4 6.6 0.5-1.3 0.4-3 0.5-6.2 0.4 12.1 0.5-2.1 0.4-6 0.5 16.8 0.4-6.4 0.5-4 0.4 0.6 0.5 12.5 0.4-9.5 0.5 1.2 0.4-8.4 0.5 11.4 0.4-1.1 0.5 10.4 0.4 3.5 0.5-0.4 0.4-14.4 0.5 12.1 0.4 7.9 0.5-8.7 0.4 1.5 0.5 2 0.4-6.8 0.5 7.4 0.4 2.5 0.5 3.5 0.4 0.6 0.5 0.9 0.4-1.2 0.5 14.4 0.4-2.5 0.5-1.6 0.4-1.7 0.5 8 0.4-11.4 0.5 10 0.4 0.8 0.5-3.6 0.4-7.6 0.5 2.3 0.4 16.1 0.5-11.6 0.4 10.8 0.5-3.6 0.4-0.2 0.5 5 0.4 6.2 0.5-1.7 0.4 3.7 0.5-11 0.4 3.3 0.5 10.2 0.4-5.2 0.5-0.6 0.4-5 0.5 6.1 0.4 0.6 0.5 6.1 0.4-2.4 0.5-7.4 0.4-0.2 0.5 15.9 0.4-11.5 0.5 0.2 0.4 1.7 0.5 4.3 0.4 5.2 0.5-1.1 0.4-2.3 0.5 1.7 0.4-1 0.5 3.3 0.4-1.4 0.5 4.4 0.4-4.9 0.5 3.6 0.4 3.7 0.5-5.1 0.4 2.6 0.5 5.3 0.4-3.2 0.5 0.1 0.4 0.9 0.5 1.9 0.4-12.5 0.5 14.1 0.4-2 0.5 10 0.4-15.3 0.5 13.3 0.4-6.2 0.5-0.5 0.4 2.5 0.5-0.3 0.4-5.5 0.5 7.9 0.4 1.2 0.5-7.2 0.4 8.6 0.5-2.4 0.4 2.5 0.5-0.1 0.4-1.7 0.5 8 0.4-7.9 0.5-6.4 0.4 10.6 0.5-10.9 0.4 7.9 0.5-1.4 0.4-8.6 0.5 2.7 0.4 17.5 0.5-13 0.4-6.8 0.5 5.9 0.4 2.7 0.5 6.1 0.4-11.2 0.5 7.3 0.4 0 0.5-0.8 0.4 6.1 0.5-5.6 0.4-8.3 0.5 9 0.4-2.7 0.5 2.3 0.4 3.4 0.5-12.5 0.4 10.6 0.5 1.1 0.4-5.9 0.5-3.5 0.4 14.7 0.5-1.7 0.4-10.8 0.5 3.9 0.4-0.3 0.5 2.6 0.4-4.1 0.5 8.3 0.4-2 0.5 3.6 0.4-4.2 0.5 7.5 0.4-11.8 0.5 8.2 0.4-0.3 0.5-3.1 0.4 2.3 0.5-3.2 0.4-4.7 0.5 5.3 0.4 4.9 0.5-13.9 0.4 17.4 0.5-13.6 0.4 9.5 0.5-8.4 0.4 8.4 0.5-6.5 0.4 4.5 0.5-0.5 0.4-0.1 0.5 1.6 0.4-2.3 0.5-1 0.4 7.1 0.5-7.5 0.4 1.5 0.5 2.8 0.4-6.1 0.5 1.7 0.4 2.1 0.5-0.2 0.4-1 0.5-1.4 0.4 3.1 0.5 1.5 0.4-9.2 0.5 2.6 0.4 3.1 0.5 1.1 0.4 2.5 0.5-1.6 0.4-4.4 0.5-2.4 0.4 5.9 0.5-4.9 0.4-1.5 0.5 8 0.4-6.8 0.5 0.9 0.4 2.5 0.5-11.5 0.4 22 0.5-5.5 0.4 2.1 0.5-9.4 0.4 0.8 0.5 3.6 0.4-4.1 0.5 0.8 0.4-3.7 0.5-2.2 0.4 9.5 0.5-3.5 0.4-2.4 0.5-3.7 0.4 12.4 0.5-12.5 0.4-8 0.5 10.8 0.4-13.5 0.5 16 0.4-9.5 0.5 2.1 0.4-0.5 0.5-2.2 0.4-5.7 0.5 8 0.4-1.8 0.5-5.9 0.4 6.8 0.5-1.2 0.4-8.2 0.5 3.9 0.4-8.5 0.5-5.6 0.4 16.4 0.5-4.9 0.4 5.4 0.5-5.6 0.4 0 0.5-0.3 0.4 0.3 0.5-0.4 0.4-9.2 0.5 7 0.4-13.3 0.5 11.2 0.4 8.7 0.5-1.1 0.4-3.4 0.5-11.6 0.4 5.8 0.5-8.4 0.4 8.8 0.5-6.7 0.4-2.9 0.5 4.2 0.4 2.8 0.5-13.9 0.4 5.5 0.5 1.7 0.4-0.7 0.5-6.3 0.4 2.8 0.5-4.2 0.4 7.5 0.5-3.8 0.4 5.4 0.5-13 0.4-1.5 0.5 4.3 0.4 4 0.5-6 0.4-4 0.5-8.8 0.4 6.1 0.5 2.3 0.4 3.7 0.5-15.1 0.4 9.7 0.5-2.1 0.4 9.2 0.5-6.7 0.4-16.4 0.5 4.6 0.4 0.9 0.5-3.8 0.4-0.1 0.5-6.3 0.4 4.4 0.5-3.6 0.4 2.3 0.5-2.4 0.4 2.9 0.5-1.8 0.4-1.4 0.5-2.3 0.4-7.9 0.5 5.8 0.4 7.8 0.5-8.8 0.4-0.5 0.5 1.7 0.4-3.6 0.5-4.8 0.4 1 0.5-4.9 0.4-1.5 0.5 5.3 0.4-3.9 0.5-4.7 0.4 7 0.5 1.9 0.4-5.4 0.5-3.1 0.4 14.9 0.5-10.9 0.4-4.1 0.5 9.7 0.4 4.2 0.5-16.8 0.4 2.1 0.5 6.3 0.4 7.1 0.5-9.9 0.4 16.4 0.5-5 0.4 10.3 0.5-8.5 0.4 3.8 0.5 3.6 0.4-6 0.5-2.6 0.4 6.9 0.5-5.6 0.4 3.5 0.5 9 0.4 4.7 0.5 4.9 0.4 4.7 0.5-9.6 0.4-1.9 0.5 17.8 0.4-5.1 0.5 2 0.4-6.2 0.5 4.1 0.4 11.9 0.5-5.2 0.4 12.5 0.5-9.3 0.4 14.4 0.5-10.9 0.4 1.3 0.5 8.8 0.4 0.6 0.5 2.2 0.4 9 0.5 3.8 0.4-6.5 0.5 12.6 0.4 5.6 0.5 2.4 0.4-3.3 0.5 1.7 0.4 4.9 0.5 4.6 0.4-2.2 0.5 0.1 0.4 10 0.5 3 0.4 1.7 0.5-2.9 0.4 0.9 0.5 7.9 0.4 5.6 0.5 4.8 0.4-3.3 0.5-1.4 0.4 3.7 0.5 4.5 0.4 6.7 0.5-6.9 0.4 6.2 0.5 1.3 0.4 4.2 0.5 0.7 0.4-0.8 0.5 8.1 0.4 2.8 0.5 0.3 0.4-0.1 0.5 2.4 0.4 0.2 0.5 0 0.4-5.1 0.5 7.7 0.4 2.3 0.5-2.5 0.4 6.1 0.5-1.9 0.4-2.9 0.5 8.4 0.4-5.4 0.5 5.2 0.4-4 0.5 0.5 0.4 6.8 0.5-2.8 0.4 1.7 0.5 1.2 0.4 3 0.5 5.2 0.4-5.2 0.5 2.6 0.4-0.8 0.5 7.4 0.4-3.9 0.5-2.4 0.4 1.8 0.5 7.9 0.4-4.1 0.5 6.7 0.4-8.3 0.5 6.1 0.4-2.3 0.5 1.6 0.4 1.2 0.5 2.9 0.4-2.6 0.5 2.5 0.4-2.6 0.5 1.1 0.4 3.9 0.5 1.4 0.4-1.8 0.5 5.7 0.4-7.4 0.5-1 0.4 7.8 0.5-1.5 0.4-2.9 0.5 7.3 0.4-4.8 0.5 8.6 0.4-12.4 0.5 3.4 0.4 4.8 0.5 2.2 0.4 1.3 0.5-6 0.4 1.9 0.5 1.9 0.4 1.5 0.5-3.6 0.4 1.3 0.5-4.3 0.4 8.6 0.5-5.8 0.4 4.9 0.5-0.6 0.4 0.6 0.5-1.7 0.4 3.3 0.5 0.2 0.4-4.6 0.5 3 0.4 1.1 0.5-3.2 0.4 4.1 0.5 2.7 0.4 0.7 0.5-4.4 0.4-8.1 0.5 11.8 0.4 0.3 0.5-2.2 0.4 0.8 0.5-1.7 0.4-0.7 0.5 5.1 0.4 1.9 0.5-3.1 0.4-3.3 0.5-1.6 0.4 7 0.5 0.1 0.4 2.1 0.5-4.6 0.4-0.7 0.5-0.1 0.4 5.1 0.5 2.6 0.4-8.1 0.5 1.3 0.4 0.5 0.5 3.1 0.4-4.3 0.5 5.1 0.4-1.1 0.5-0.8 0.4 2.3 0.5-5.5 0.4 0.5 0.5 6.8 0.4-4.7 0.5-1.7 0.4 1.3 0.5-2.1 0.4 5.7 0.5-4.9 0.4 5 0.5-0.1 0.4-2.6 0.5 6.2 0.4-5.5 0.5 1.1 0.4 1.4 0.5-4.7 0.4-1.5 0.5 4.8 0.4-3.4 0.5-1.2 0.4 0.7 0.5 5.6 0.4 3.2 0.5-5.5 0.4-0.3 0.5 1.3 0.4 1.4 0.5-2.2 0.4-1.6 0.5 3.9 0.4-3.7 0.5-0.8 0.4 0 0.5 0.4 0.4 1.3 0.5 0.4 0.4 2.1 0.5-3.2 0.4 1.4 0.5-1.1 0.4 1.4 0.5 3.5 0.4-4.8 0.5-3.6 0.4 7.7 0.5-1.3 0.4 0.1 0.5-8.3 0.4 3.6 0.5 4.4 0.4-1.5 0.5-0.3 0.4 4 0.5-6.4 0.4 1.8 0.5 2.3 0.4-3.3 0.5 0.4 0.4 1.6 0.5-1.4 0.4 1.3 0.5 4 0.4-7 0.5 2 0.4 0 0.5 0.9 0.4 2.4 0.5 3.6 0.4-0.8 0.5 3.8 0.4-12.5 0.5 2.6 0.4 9.7 0.5-6.9 0.4 0.4 0.5-1.3 0.4-0.8 0.5 5.7 0.4-3.9 0.5-2.1 0.4 2.1 0.5-0.3 0.4 1.9 0.5-0.2 0.4-0.6 0.5-1.4 0.4 1.4 0.5-1.2 0.4-2.9 0.5 3.6 0.4-4.7 0.5 4.6 0.4-2.4 0.5 7.1 0.4-3 0.5-2.7 0.4-0.1 0.5 3.9 0.4-5.5 0.5 7.3 0.4-0.2 0.5-2.2 0.4-3.2 0.5 3.3 0.4-2.8 0.5-4.5 0.4 2.6 0.5 6.2 0.4-3.9 0.5-1 0.4 5.6 0.5-2.3 0.4 0.6 0.5-1.1 0.4-4.9 0.5 3.6 0.4-4.3 0.5 7.8 0.4-5.7 0.5 9.1 0.4-10.5 0.5 0.6 0.4 6.4 0.5-8.6 0.4 5.1 0.5 1.1 0.4 7.4 0.5-6.9 0.4 0.2 0.5-1.4 0.4-0.3 0.5-1.6 0.4 3.6 0.5-2.5 0.4 0.4 0.5-4.5 0.4 7.2 0.5-1.7 0.4-0.9 0.5 1.2 0.4 3.8 0.5-12 0.4 10.7 0.5-4 0.4 0.1 0.5 2.8 0.4 0.9 0.5-6.4 0.4 7.8 0.5-5.8 0.4 6.5 0.5-4.7 0.4 9.5 0.5-12.7 0.4 4.4 0.5 3.9 0.4-6.7 0.5 3.4 0.4-8 0.5 1.6 0.4 0.9 0.5 3.3 0.4-3.6 0.5 5.7 0.4-2.1 0.5-7.6 0.4 10.5 0.5 1.7 0.4-1.2 0.5 0.1 0.4-3.6 0.5 0.2 0.4 1.4 0.5 0.4 0.4 2 0.5 3.3 0.4-2.1 0.5-4.4 0.4-6.8 0.5 2.5 0.4 5.9 0.5-4.3 0.4 9.4 0.5-7.1 0.4 0.5 0.5 2.1 0.4-3.1 0.5 1.3 0.4 4.7 0.5-0.4 0.4 2.1 0.5-0.9 0.4-0.5 0.5-9.3 0.4 5 0.5-2 0.4 2 0.5 1.4 0.4 0.8 0.5 0.1 0.4 1.7 0.5-1.1 0.4 1.9 0.5-8.1 0.4 0.9 0.5 3.7 0.4 1.4 0.5-6.7 0.4-1.2 0.5 8.7 0.4-3.6 0.5 2.9 0.4 0.7 0.5-1.2 0.4-3.8 0.5 5.1 0.4-3.7 0.5 3.6 0.4-6.9 0.5 5.9 0.4-1.5 0.5-0.9 0.4 3.1 0.5-0.9 0.4-0.7 0.5 0.7 0.4-3.6 0.5 3.6 0.4-4.1 0.5-0.2 0.4 3.6 0.5 0.7 0.4-3.3 0.5-0.7 0.4-0.3 0.5 2 0.4-0.5 0.5 7.1 0.4-8.8 0.5 3.1 0.4 3.9 0.5-2.4 0.4-0.7 0.5 4.4 0.4-0.7 0.5 0.1 0.4-5 0.5 3.6 0.4-0.1 0.5-4 0.4 4.7 0.5-1.9 0.4-2.3 0.5 2.1 0.4 0.4 0.5-0.6 0.4-0.6 0.5-5.1 0.4 4.8 0.5 0.5 0.4-5.7 0.5 7.8 0.4-2.2 0.5 2.4 0.4-1.1 0.5-1.8 0.4-4.7 0.5 4.5 0.4-2.7 0.5 1.5 0.4 0.6 0.5 0.3 0.4 2.9 0.5 0.3 0.4-1.3 0.5-3.5 0.4 1.5 0.5 3.1 0.4 3.9 0.5-7.2 0.4-0.1 0.5 0.1 0.4 1.6 0.5 2.5 0.4-4.2 0.5 0.6 0.4 0 0.5 6.3 0.4-4.7 0.5 3.5 0.4 0 0.5-3.5 0.4 1.1 0.5-1.6 0.4-0.1 0.5-3.2 0.4 1.7 0.5 0.6 0.4 3.9 0.5-3.4 0.4-1.6 0.5 4 0.4-2.9 0.5 0.7 0.4-1.6 0.5 5.3 0.4-3.7 0.5 2.1 0.4-4 0.5 1.6 0.4-7.7 0.5 11.1 0.4 4.7 0.5-12.2 0.4 10.9 0.5-1.2 0.4-1 0.5-3.6 0.4-0.4 0.5 5.1 0.4-5.2 0.5-2.4 0.4 1.9 0.5 2.7 0.4-1.1 0.5-0.2 0.4 0.9 0.5 5.7 0.4-4.7 0.5 0.2 0.4-4.4 0.5 1.6 0.4 4.7 0.5-1.7 0.4 0.3 0.5-2.4 0.4-3.6 0.5 3.5 0.4-0.3 0.5 6.4 0.4-8.4 0.5 1.3 0.4 7.5 0.5-6.3 0.4-0.9 0.5 4.3 0.4-4.6 0.5 1.9 0.4-0.8 0.5 2.9 0.4-2.9 0.5 1.8 0.4-4 0.5 1.9 0.4 1.6 0.5-2.3 0.4 3.9 0.5-2 0.4-6.2 0.5 11.8 0.4-6.6 0.5 3.9 0.4-0.7 0.5-1.7 0.4 1.3 0.5 0 0.4-4 0.5 5.1 0.4-5.6 0.5 6.7 0.4-5.4 0.5 3 0.4-1.5 0.5 2.4 0.4-3 0.5 0 0.4 0.2 0.5 1.8 0.4 2.8 0.5-6.8 0.4-5.4 0.5 8 0.4-0.9 0.5 2.2 0.4-0.5 0.5-1.5 0.4 0.7 0.5 0.3 0.4-2.2 0.5-0.7 0.4 0.1 0.5-1.1 0.4 4 0.5 3 0.4 1.1 0.5-5.6 0.4 3.1 0.5-4.3 0.4 2.9 0.5-0.7 0.4 6 0.5-6.4 0.4-0.4 0.5-1.2 0.4-0.2 0.5 5.6 0.4 2 0.5-6.5 0.4-1.6 0.5 1.7 0.4-2.4 0.5 3.8 0.4 5 0.5-7.2 0.4 2.8 0.5 1.2 0.4-5.5 0.5 3.8 0.4-3.3 0.5 5.3 0.4-0.8 0.5-1 0.4-6.7 0.5 5 0.4 2.6 0.5-2.4 0.4 3.9 0.5-1 0.4 0.7 0.5-1.4 0.4 2.1 0.5-3.6 0.4 0.2 0.5 3.2 0.4-5.4 0.5-1.5 0.4 6.9 0.5 1.2 0.4-1.2 0.5 4.6 0.4-6.2 0.5-5.5 0.4 3.7 0.5-4.7 0.4 5.5 0.5 1.3 0.4 4 0.5 0.9 0.4-4.8 0.5 3.6 0.4-1.7 0.5-4 0.4-0.2 0.5-3.2 0.4 4.2 0.5 0 0.4-1.7 0.5 2.4 0.4-1.7 0.5 7.6 0.4-10.2 0.5 7.5 0.4-4.9 0.5 0.8 0.4 2.2 0.5-7.4 0.4 4.6 0.5 3.6 0.4-6.3 0.5 0 0.4-3.4 0.5 6.1 0.4-3 0.5 3.5 0.4-0.9 0.5 3 0.4 3 0.5-8.8 0.4 2.6 0.5-0.2 0.4 7.2 0.5-5.9 0.4-1.8 0.5-2.2 0.4 6.1 0.5-4.9 0.4 1.5 0.5 4.6 0.4-1.8 0.5 0.2 0.4 0.8 0.5-3.7 0.4-1.2 0.5 2.2 0.4-1.6 0.5 5.6 0.4-1.1 0.5-1.5 0.4 0.9 0.5-2.1 0.4 0.5 0.5 3.4 0.4-7.3 0.5 5.4 0.4 2.7 0.5-6.1 0.4 2.3 0.5 0.4 0.4-0.8 0.5 3.1 0.4-1.4 0.5-0.7 0.4-1.1 0.5-2.5 0.4 5.3 0.5-2.6 0.4-1.4 0.5 1.2 0.4 6.3 0.5-7.6 0.4 4.9 0.5-5.9 0.4 0.1 0.5 7.8 0.4-8 0.5 3.5 0.4 4.5 0.5-10.2 0.4 4.9 0.5 1.1 0.4-2.4 0.5 3.8 0.4-1.1 0.5-1.5 0.4 2.1 0.5-2.3 0.4-4.5 0.5 6.6 0.4 3.9 0.5-2.7 0.4-1.7 0.5-4.9 0.4 2 0.5 4.3 0.4-1.4 0.5 2.9 0.4-4.7 0.5-4 0.4 0.6 0.5 5.5 0.4 1.1 0.5-2.5 0.4 1.5 0.5-0.4 0.4 1.7 0.5-4.9 0.4-0.2 0.5 0.2 0.4 2.7 0.5 0.2 0.4-4.7 0.5 4.7 0.4 1.2 0.5-3.8 0.4 3 0.5-3.9 0.4 3.7 0.5-4 0.4 3.8 0.5-4.8 0.4-0.5 0.5 7.4 0.4-2.5 0.5-2.2 0.4 5.1 0.5-9.3 0.4 8.6 0.5-1.1 0.4-2.5 0.5 1.8 0.4 3 0.5-1.6 0.4-1.6 0.5 0.9 0.4 2.6 0.5-6 0.4 4.3 0.5-6 0.4 8.6 0.5-2.8 0.4-3.6 0.5 3.5 0.4-3 0.5 2.2 0.4-4 0.5 5.2 0.4-1.1 0.5-0.6 0.4 0.9 0.5-2.5 0.4 1.9 0.5 0.9 0.4-3.7 0.5 0.5 0.4 7 0.5-7.1 0.4 2.2 0.5-3.3 0.4-1.2 0.5 7.6 0.4-0.3 0.5-6.6 0.4-3.1 0.5 3.9 0.4 9.3 0.5-5.1 0.4-1.4 0.5-1.1 0.4 1 0.5-0.5 0.4 3.5 0.5-2.2 0.4 2.6 0.5-4.5 0.4 5.7 0.5-4 0.4-1.9 0.5-1.8 0.4 0.8 0.5 3.5 0.4 1.3 0.5-4.5 0.4 0 0.5 7.6 0.4-5.4 0.5 2.1 0.4-2.6 0.5-3 0.4 1.8 0.5-3.3 0.4 2.9 0.5-0.7 0.4 0.6 0.5-1 0.4-1.9 0.5 4.9 0.4 1" fill="none" stroke="#800000" stroke-width="2.8" stroke-linejoin="round"/><g font-family='"Liberation Sans", Arial, sans-serif'><text x="73.6" y="758.3" font-size="46" font-weight="bold" fill="#000" text-anchor="middle" >20</text><text x="218.6" y="758.3" font-size="46" font-weight="bold" fill="#000" text-anchor="middle" >30</text><text x="363.6" y="758.3" font-size="46" font-weight="bold" fill="#000" text-anchor="middle" >40</text><text x="508.6" y="758.3" font-size="46" font-weight="bold" fill="#000" text-anchor="middle" >50</text><text x="653.6" y="758.3" font-size="46" font-weight="bold" fill="#000" text-anchor="middle" >60</text><text x="798.6" y="758.3" font-size="46" font-weight="bold" fill="#000" text-anchor="middle" >70</text><text x="943.6" y="758.3" font-size="46" font-weight="bold" fill="#000" text-anchor="middle" >80</text><text x="1145.2" y="758.3" font-size="46" font-weight="bold" fill="#000" text-anchor="middle" >800</text><text x="1269.6" y="758.3" font-size="46" font-weight="bold" fill="#000" text-anchor="middle" >1000</text><text x="1393.9" y="758.3" font-size="46" font-weight="bold" fill="#000" text-anchor="middle" >1200</text><text x="1518.3" y="758.3" font-size="46" font-weight="bold" fill="#000" text-anchor="middle" >1400</text><text x="1642.6" y="758.3" font-size="46" font-weight="bold" fill="#000" text-anchor="middle" >1600</text><text x="1767.0" y="758.3" font-size="46" font-weight="bold" fill="#000" text-anchor="middle" >1800</text><text x="1891.3" y="758.3" font-size="46" font-weight="bold" fill="#000" text-anchor="middle" >2000</text><text x="2015.7" y="758.3" font-size="46" font-weight="bold" fill="#000" text-anchor="middle" >2200</text><text x="345" y="827" font-size="45.8" font-weight="bold" fill="#000" text-anchor="start" >2theta (degree)</text><text x="1383.1" y="841.3" font-size="46" font-weight="bold" fill="#000" text-anchor="start" >Raman shift (cm<tspan font-size="28" font-weight="normal" dy="-22">-1</tspan><tspan dy="22">)</tspan></text><text x="0" y="0" font-size="46.2" font-weight="bold" transform="translate(36 527.5) rotate(-90)">Intensity (a.u.)</text><text x="0" y="0" font-size="46.4" font-weight="bold" transform="translate(1081.7 527.4) rotate(-90)">Intensity (a.u.)</text><text x="637.5" y="81.7" font-size="49" font-weight="normal" fill="#000" text-anchor="middle" >(a)</text><text x="1781.2" y="81.5" font-size="49" font-weight="normal" fill="#000" text-anchor="middle" >(b)</text><text x="931.5" y="246.2" font-size="40" font-weight="bold" fill="#000" text-anchor="end" >Fe<tspan font-size="22" font-weight="normal" dy="12.2">2</tspan><tspan dy="-12.2">O</tspan><tspan font-size="22" font-weight="normal" dy="12.2">3</tspan><tspan dy="-12.2">/NC</tspan></text><text x="931.6" y="410" font-size="40" font-weight="bold" fill="#800000" text-anchor="end" >Fe&amp;Fe<tspan font-size="22" font-weight="normal" dy="12.2">2</tspan><tspan dy="-12.2">O</tspan><tspan font-size="22" font-weight="normal" dy="12.2">3</tspan><tspan dy="-12.2">/NC</tspan></text><text x="87.2" y="470.7" font-size="39.5" font-weight="bold" fill="#ff0000" text-anchor="start" >Fe<tspan font-size="22" font-weight="normal" dy="12.2">2</tspan><tspan dy="-12.2">O</tspan><tspan font-size="22" font-weight="normal" dy="12.2">3</tspan><tspan dy="-12.2">(39-1346)</tspan></text><text x="443.8" y="554" font-size="39.2" font-weight="bold" fill="#ff8000" text-anchor="start" >Fe (06-0696)</text><text x="1157.4" y="208.6" font-size="40.6" font-weight="bold" fill="#000" text-anchor="start" >I<tspan font-size="21.4" font-weight="normal" dy="12.2">D</tspan><tspan dy="-12.2">/I</tspan><tspan font-size="21.4" font-weight="normal" dy="12.2">G</tspan><tspan dy="-12.2">=1.047</tspan></text><text x="1156.8" y="515.8" font-size="40.6" font-weight="bold" fill="#800000" text-anchor="start" >I<tspan font-size="21.4" font-weight="normal" dy="12.2">D</tspan><tspan dy="-12.2">/I</tspan><tspan font-size="21.4" font-weight="normal" dy="12.2">G</tspan><tspan dy="-12.2">=1.067</tspan></text><text x="2001.8" y="211" font-size="40" font-weight="bold" fill="#000" text-anchor="end" >Fe<tspan font-size="22" font-weight="normal" dy="12.2">2</tspan><tspan dy="-12.2">O</tspan><tspan font-size="22" font-weight="normal" dy="12.2">3</tspan><tspan dy="-12.2">/NC</tspan></text><text x="2003" y="546.8" font-size="40" font-weight="bold" fill="#800000" text-anchor="end" >Fe&amp;Fe<tspan font-size="22" font-weight="normal" dy="12.2">2</tspan><tspan dy="-12.2">O</tspan><tspan font-size="22" font-weight="normal" dy="12.2">3</tspan><tspan dy="-12.2">/NC</tspan></text></g></svg>
</body></html>
